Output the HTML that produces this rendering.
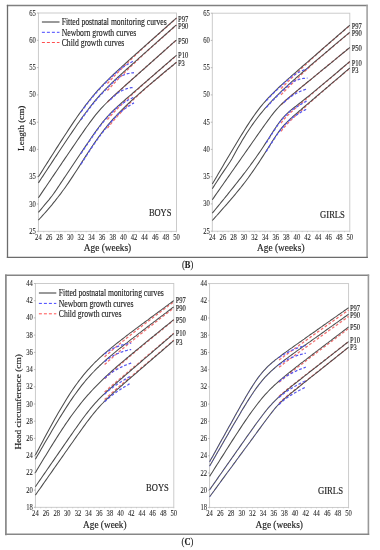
<!DOCTYPE html><html><head><meta charset="utf-8"><title>Postnatal growth monitoring curves</title>
<style>html,body{margin:0;padding:0;background:#fff;}svg{display:block;filter:blur(0.3px);}text{font-family:"Liberation Serif", "Times New Roman", serif;fill:#1e1e1e;stroke:#1e1e1e;stroke-width:0.15px;}.tk{stroke-width:0.08px;fill:#2a2a2a;}</style></head><body>
<svg width="380" height="550" viewBox="0 0 380 550">
<rect x="0" y="0" width="380" height="550" fill="#fff"/>
<line x1="7.5" y1="5.5" x2="367.1" y2="5.5" stroke="#808080" stroke-width="1.4" stroke-linecap="square"/>
<line x1="367.1" y1="5.5" x2="367.1" y2="257.3" stroke="#a2a2a2" stroke-width="1.6" stroke-linecap="square"/>
<line x1="7.5" y1="5.5" x2="7.5" y2="257.3" stroke="#6c6c6c" stroke-width="1.3" stroke-linecap="square"/>
<line x1="7.5" y1="257.3" x2="367.1" y2="257.3" stroke="#6c6c6c" stroke-width="1.3" stroke-linecap="square"/>
<line x1="5.9" y1="275.3" x2="368.4" y2="275.3" stroke="#858585" stroke-width="1.5" stroke-linecap="square"/>
<line x1="368.4" y1="275.3" x2="368.4" y2="534.3" stroke="#999999" stroke-width="1.6" stroke-linecap="square"/>
<line x1="5.9" y1="275.3" x2="5.9" y2="534.3" stroke="#878787" stroke-width="1.7" stroke-linecap="square"/>
<line x1="5.9" y1="534.3" x2="368.4" y2="534.3" stroke="#878787" stroke-width="1.6" stroke-linecap="square"/>
<rect x="38.4" y="13.0" width="138.1" height="218.3" fill="none" stroke="#c6c6c6" stroke-width="0.9"/>
<line x1="36.9" y1="231.3" x2="38.4" y2="231.3" stroke="#aaa" stroke-width="0.8"/>
<text x="29.3" y="233.8" font-size="8.0" class="tk" textLength="6.6" lengthAdjust="spacingAndGlyphs">25</text>
<line x1="36.9" y1="204.0" x2="38.4" y2="204.0" stroke="#aaa" stroke-width="0.8"/>
<text x="29.3" y="206.5" font-size="8.0" class="tk" textLength="6.6" lengthAdjust="spacingAndGlyphs">30</text>
<line x1="36.9" y1="176.7" x2="38.4" y2="176.7" stroke="#aaa" stroke-width="0.8"/>
<text x="29.3" y="179.2" font-size="8.0" class="tk" textLength="6.6" lengthAdjust="spacingAndGlyphs">35</text>
<line x1="36.9" y1="149.4" x2="38.4" y2="149.4" stroke="#aaa" stroke-width="0.8"/>
<text x="29.3" y="151.9" font-size="8.0" class="tk" textLength="6.6" lengthAdjust="spacingAndGlyphs">40</text>
<line x1="36.9" y1="122.2" x2="38.4" y2="122.2" stroke="#aaa" stroke-width="0.8"/>
<text x="29.3" y="124.7" font-size="8.0" class="tk" textLength="6.6" lengthAdjust="spacingAndGlyphs">45</text>
<line x1="36.9" y1="94.9" x2="38.4" y2="94.9" stroke="#aaa" stroke-width="0.8"/>
<text x="29.3" y="97.4" font-size="8.0" class="tk" textLength="6.6" lengthAdjust="spacingAndGlyphs">50</text>
<line x1="36.9" y1="67.6" x2="38.4" y2="67.6" stroke="#aaa" stroke-width="0.8"/>
<text x="29.3" y="70.1" font-size="8.0" class="tk" textLength="6.6" lengthAdjust="spacingAndGlyphs">55</text>
<line x1="36.9" y1="40.3" x2="38.4" y2="40.3" stroke="#aaa" stroke-width="0.8"/>
<text x="29.3" y="42.8" font-size="8.0" class="tk" textLength="6.6" lengthAdjust="spacingAndGlyphs">60</text>
<line x1="36.9" y1="13.0" x2="38.4" y2="13.0" stroke="#aaa" stroke-width="0.8"/>
<text x="29.3" y="15.5" font-size="8.0" class="tk" textLength="6.6" lengthAdjust="spacingAndGlyphs">65</text>
<text x="35.1" y="239.8" font-size="8.0" class="tk" textLength="6.6" lengthAdjust="spacingAndGlyphs">24</text>
<text x="45.7" y="239.8" font-size="8.0" class="tk" textLength="6.6" lengthAdjust="spacingAndGlyphs">26</text>
<text x="56.3" y="239.8" font-size="8.0" class="tk" textLength="6.6" lengthAdjust="spacingAndGlyphs">28</text>
<text x="67.0" y="239.8" font-size="8.0" class="tk" textLength="6.6" lengthAdjust="spacingAndGlyphs">30</text>
<text x="77.6" y="239.8" font-size="8.0" class="tk" textLength="6.6" lengthAdjust="spacingAndGlyphs">32</text>
<text x="88.2" y="239.8" font-size="8.0" class="tk" textLength="6.6" lengthAdjust="spacingAndGlyphs">34</text>
<text x="98.8" y="239.8" font-size="8.0" class="tk" textLength="6.6" lengthAdjust="spacingAndGlyphs">36</text>
<text x="109.5" y="239.8" font-size="8.0" class="tk" textLength="6.6" lengthAdjust="spacingAndGlyphs">38</text>
<text x="120.1" y="239.8" font-size="8.0" class="tk" textLength="6.6" lengthAdjust="spacingAndGlyphs">40</text>
<text x="130.7" y="239.8" font-size="8.0" class="tk" textLength="6.6" lengthAdjust="spacingAndGlyphs">42</text>
<text x="141.3" y="239.8" font-size="8.0" class="tk" textLength="6.6" lengthAdjust="spacingAndGlyphs">44</text>
<text x="152.0" y="239.8" font-size="8.0" class="tk" textLength="6.6" lengthAdjust="spacingAndGlyphs">46</text>
<text x="162.6" y="239.8" font-size="8.0" class="tk" textLength="6.6" lengthAdjust="spacingAndGlyphs">48</text>
<text x="173.2" y="239.8" font-size="8.0" class="tk" textLength="6.6" lengthAdjust="spacingAndGlyphs">50</text>
<line x1="38.4" y1="231.3" x2="38.4" y2="232.3" stroke="#bdbdbd" stroke-width="0.7"/>
<line x1="43.7" y1="231.3" x2="43.7" y2="232.3" stroke="#bdbdbd" stroke-width="0.7"/>
<line x1="49.0" y1="231.3" x2="49.0" y2="232.3" stroke="#bdbdbd" stroke-width="0.7"/>
<line x1="54.3" y1="231.3" x2="54.3" y2="232.3" stroke="#bdbdbd" stroke-width="0.7"/>
<line x1="59.6" y1="231.3" x2="59.6" y2="232.3" stroke="#bdbdbd" stroke-width="0.7"/>
<line x1="65.0" y1="231.3" x2="65.0" y2="232.3" stroke="#bdbdbd" stroke-width="0.7"/>
<line x1="70.3" y1="231.3" x2="70.3" y2="232.3" stroke="#bdbdbd" stroke-width="0.7"/>
<line x1="75.6" y1="231.3" x2="75.6" y2="232.3" stroke="#bdbdbd" stroke-width="0.7"/>
<line x1="80.9" y1="231.3" x2="80.9" y2="232.3" stroke="#bdbdbd" stroke-width="0.7"/>
<line x1="86.2" y1="231.3" x2="86.2" y2="232.3" stroke="#bdbdbd" stroke-width="0.7"/>
<line x1="91.5" y1="231.3" x2="91.5" y2="232.3" stroke="#bdbdbd" stroke-width="0.7"/>
<line x1="96.8" y1="231.3" x2="96.8" y2="232.3" stroke="#bdbdbd" stroke-width="0.7"/>
<line x1="102.1" y1="231.3" x2="102.1" y2="232.3" stroke="#bdbdbd" stroke-width="0.7"/>
<line x1="107.4" y1="231.3" x2="107.4" y2="232.3" stroke="#bdbdbd" stroke-width="0.7"/>
<line x1="112.8" y1="231.3" x2="112.8" y2="232.3" stroke="#bdbdbd" stroke-width="0.7"/>
<line x1="118.1" y1="231.3" x2="118.1" y2="232.3" stroke="#bdbdbd" stroke-width="0.7"/>
<line x1="123.4" y1="231.3" x2="123.4" y2="232.3" stroke="#bdbdbd" stroke-width="0.7"/>
<line x1="128.7" y1="231.3" x2="128.7" y2="232.3" stroke="#bdbdbd" stroke-width="0.7"/>
<line x1="134.0" y1="231.3" x2="134.0" y2="232.3" stroke="#bdbdbd" stroke-width="0.7"/>
<line x1="139.3" y1="231.3" x2="139.3" y2="232.3" stroke="#bdbdbd" stroke-width="0.7"/>
<line x1="144.6" y1="231.3" x2="144.6" y2="232.3" stroke="#bdbdbd" stroke-width="0.7"/>
<line x1="149.9" y1="231.3" x2="149.9" y2="232.3" stroke="#bdbdbd" stroke-width="0.7"/>
<line x1="155.3" y1="231.3" x2="155.3" y2="232.3" stroke="#bdbdbd" stroke-width="0.7"/>
<line x1="160.6" y1="231.3" x2="160.6" y2="232.3" stroke="#bdbdbd" stroke-width="0.7"/>
<line x1="165.9" y1="231.3" x2="165.9" y2="232.3" stroke="#bdbdbd" stroke-width="0.7"/>
<line x1="171.2" y1="231.3" x2="171.2" y2="232.3" stroke="#bdbdbd" stroke-width="0.7"/>
<line x1="176.5" y1="231.3" x2="176.5" y2="232.3" stroke="#bdbdbd" stroke-width="0.7"/>
<text x="178.0" y="21.6" font-size="8.0" textLength="10.2" lengthAdjust="spacingAndGlyphs">P97</text>
<text x="178.0" y="29.0" font-size="8.0" textLength="10.2" lengthAdjust="spacingAndGlyphs">P90</text>
<text x="178.0" y="43.9" font-size="8.0" textLength="10.2" lengthAdjust="spacingAndGlyphs">P50</text>
<text x="178.0" y="58.0" font-size="8.0" textLength="10.2" lengthAdjust="spacingAndGlyphs">P10</text>
<text x="178.0" y="65.7" font-size="8.0" textLength="6.8" lengthAdjust="spacingAndGlyphs">P3</text>
<rect x="212.3" y="13.2" width="137.5" height="218.0" fill="none" stroke="#c6c6c6" stroke-width="0.9"/>
<line x1="210.8" y1="231.2" x2="212.3" y2="231.2" stroke="#aaa" stroke-width="0.8"/>
<text x="203.2" y="233.7" font-size="8.0" class="tk" textLength="6.6" lengthAdjust="spacingAndGlyphs">25</text>
<line x1="210.8" y1="203.9" x2="212.3" y2="203.9" stroke="#aaa" stroke-width="0.8"/>
<text x="203.2" y="206.4" font-size="8.0" class="tk" textLength="6.6" lengthAdjust="spacingAndGlyphs">30</text>
<line x1="210.8" y1="176.7" x2="212.3" y2="176.7" stroke="#aaa" stroke-width="0.8"/>
<text x="203.2" y="179.2" font-size="8.0" class="tk" textLength="6.6" lengthAdjust="spacingAndGlyphs">35</text>
<line x1="210.8" y1="149.4" x2="212.3" y2="149.4" stroke="#aaa" stroke-width="0.8"/>
<text x="203.2" y="151.9" font-size="8.0" class="tk" textLength="6.6" lengthAdjust="spacingAndGlyphs">40</text>
<line x1="210.8" y1="122.2" x2="212.3" y2="122.2" stroke="#aaa" stroke-width="0.8"/>
<text x="203.2" y="124.7" font-size="8.0" class="tk" textLength="6.6" lengthAdjust="spacingAndGlyphs">45</text>
<line x1="210.8" y1="94.9" x2="212.3" y2="94.9" stroke="#aaa" stroke-width="0.8"/>
<text x="203.2" y="97.4" font-size="8.0" class="tk" textLength="6.6" lengthAdjust="spacingAndGlyphs">50</text>
<line x1="210.8" y1="67.7" x2="212.3" y2="67.7" stroke="#aaa" stroke-width="0.8"/>
<text x="203.2" y="70.2" font-size="8.0" class="tk" textLength="6.6" lengthAdjust="spacingAndGlyphs">55</text>
<line x1="210.8" y1="40.4" x2="212.3" y2="40.4" stroke="#aaa" stroke-width="0.8"/>
<text x="203.2" y="42.9" font-size="8.0" class="tk" textLength="6.6" lengthAdjust="spacingAndGlyphs">60</text>
<line x1="210.8" y1="13.2" x2="212.3" y2="13.2" stroke="#aaa" stroke-width="0.8"/>
<text x="203.2" y="15.7" font-size="8.0" class="tk" textLength="6.6" lengthAdjust="spacingAndGlyphs">65</text>
<text x="209.0" y="240.1" font-size="8.0" class="tk" textLength="6.6" lengthAdjust="spacingAndGlyphs">24</text>
<text x="219.6" y="240.1" font-size="8.0" class="tk" textLength="6.6" lengthAdjust="spacingAndGlyphs">26</text>
<text x="230.2" y="240.1" font-size="8.0" class="tk" textLength="6.6" lengthAdjust="spacingAndGlyphs">28</text>
<text x="240.7" y="240.1" font-size="8.0" class="tk" textLength="6.6" lengthAdjust="spacingAndGlyphs">30</text>
<text x="251.3" y="240.1" font-size="8.0" class="tk" textLength="6.6" lengthAdjust="spacingAndGlyphs">32</text>
<text x="261.9" y="240.1" font-size="8.0" class="tk" textLength="6.6" lengthAdjust="spacingAndGlyphs">34</text>
<text x="272.5" y="240.1" font-size="8.0" class="tk" textLength="6.6" lengthAdjust="spacingAndGlyphs">36</text>
<text x="283.0" y="240.1" font-size="8.0" class="tk" textLength="6.6" lengthAdjust="spacingAndGlyphs">38</text>
<text x="293.6" y="240.1" font-size="8.0" class="tk" textLength="6.6" lengthAdjust="spacingAndGlyphs">40</text>
<text x="304.2" y="240.1" font-size="8.0" class="tk" textLength="6.6" lengthAdjust="spacingAndGlyphs">42</text>
<text x="314.8" y="240.1" font-size="8.0" class="tk" textLength="6.6" lengthAdjust="spacingAndGlyphs">44</text>
<text x="325.3" y="240.1" font-size="8.0" class="tk" textLength="6.6" lengthAdjust="spacingAndGlyphs">46</text>
<text x="335.9" y="240.1" font-size="8.0" class="tk" textLength="6.6" lengthAdjust="spacingAndGlyphs">48</text>
<text x="346.5" y="240.1" font-size="8.0" class="tk" textLength="6.6" lengthAdjust="spacingAndGlyphs">50</text>
<line x1="212.3" y1="231.2" x2="212.3" y2="232.2" stroke="#bdbdbd" stroke-width="0.7"/>
<line x1="217.6" y1="231.2" x2="217.6" y2="232.2" stroke="#bdbdbd" stroke-width="0.7"/>
<line x1="222.9" y1="231.2" x2="222.9" y2="232.2" stroke="#bdbdbd" stroke-width="0.7"/>
<line x1="228.2" y1="231.2" x2="228.2" y2="232.2" stroke="#bdbdbd" stroke-width="0.7"/>
<line x1="233.5" y1="231.2" x2="233.5" y2="232.2" stroke="#bdbdbd" stroke-width="0.7"/>
<line x1="238.7" y1="231.2" x2="238.7" y2="232.2" stroke="#bdbdbd" stroke-width="0.7"/>
<line x1="244.0" y1="231.2" x2="244.0" y2="232.2" stroke="#bdbdbd" stroke-width="0.7"/>
<line x1="249.3" y1="231.2" x2="249.3" y2="232.2" stroke="#bdbdbd" stroke-width="0.7"/>
<line x1="254.6" y1="231.2" x2="254.6" y2="232.2" stroke="#bdbdbd" stroke-width="0.7"/>
<line x1="259.9" y1="231.2" x2="259.9" y2="232.2" stroke="#bdbdbd" stroke-width="0.7"/>
<line x1="265.2" y1="231.2" x2="265.2" y2="232.2" stroke="#bdbdbd" stroke-width="0.7"/>
<line x1="270.5" y1="231.2" x2="270.5" y2="232.2" stroke="#bdbdbd" stroke-width="0.7"/>
<line x1="275.8" y1="231.2" x2="275.8" y2="232.2" stroke="#bdbdbd" stroke-width="0.7"/>
<line x1="281.1" y1="231.2" x2="281.1" y2="232.2" stroke="#bdbdbd" stroke-width="0.7"/>
<line x1="286.3" y1="231.2" x2="286.3" y2="232.2" stroke="#bdbdbd" stroke-width="0.7"/>
<line x1="291.6" y1="231.2" x2="291.6" y2="232.2" stroke="#bdbdbd" stroke-width="0.7"/>
<line x1="296.9" y1="231.2" x2="296.9" y2="232.2" stroke="#bdbdbd" stroke-width="0.7"/>
<line x1="302.2" y1="231.2" x2="302.2" y2="232.2" stroke="#bdbdbd" stroke-width="0.7"/>
<line x1="307.5" y1="231.2" x2="307.5" y2="232.2" stroke="#bdbdbd" stroke-width="0.7"/>
<line x1="312.8" y1="231.2" x2="312.8" y2="232.2" stroke="#bdbdbd" stroke-width="0.7"/>
<line x1="318.1" y1="231.2" x2="318.1" y2="232.2" stroke="#bdbdbd" stroke-width="0.7"/>
<line x1="323.4" y1="231.2" x2="323.4" y2="232.2" stroke="#bdbdbd" stroke-width="0.7"/>
<line x1="328.6" y1="231.2" x2="328.6" y2="232.2" stroke="#bdbdbd" stroke-width="0.7"/>
<line x1="333.9" y1="231.2" x2="333.9" y2="232.2" stroke="#bdbdbd" stroke-width="0.7"/>
<line x1="339.2" y1="231.2" x2="339.2" y2="232.2" stroke="#bdbdbd" stroke-width="0.7"/>
<line x1="344.5" y1="231.2" x2="344.5" y2="232.2" stroke="#bdbdbd" stroke-width="0.7"/>
<line x1="349.8" y1="231.2" x2="349.8" y2="232.2" stroke="#bdbdbd" stroke-width="0.7"/>
<text x="351.7" y="29.2" font-size="8.0" textLength="10.2" lengthAdjust="spacingAndGlyphs">P97</text>
<text x="351.7" y="36.4" font-size="8.0" textLength="10.2" lengthAdjust="spacingAndGlyphs">P90</text>
<text x="351.7" y="51.2" font-size="8.0" textLength="10.2" lengthAdjust="spacingAndGlyphs">P50</text>
<text x="351.7" y="65.7" font-size="8.0" textLength="10.2" lengthAdjust="spacingAndGlyphs">P10</text>
<text x="351.7" y="73.2" font-size="8.0" textLength="6.8" lengthAdjust="spacingAndGlyphs">P3</text>
<rect x="35.4" y="283.5" width="138.4" height="223.8" fill="none" stroke="#c6c6c6" stroke-width="0.9"/>
<line x1="33.9" y1="507.3" x2="35.4" y2="507.3" stroke="#aaa" stroke-width="0.8"/>
<text x="26.2" y="509.8" font-size="8.0" class="tk" textLength="6.6" lengthAdjust="spacingAndGlyphs">18</text>
<line x1="33.9" y1="490.1" x2="35.4" y2="490.1" stroke="#aaa" stroke-width="0.8"/>
<text x="26.2" y="492.6" font-size="8.0" class="tk" textLength="6.6" lengthAdjust="spacingAndGlyphs">20</text>
<line x1="33.9" y1="472.9" x2="35.4" y2="472.9" stroke="#aaa" stroke-width="0.8"/>
<text x="26.2" y="475.4" font-size="8.0" class="tk" textLength="6.6" lengthAdjust="spacingAndGlyphs">22</text>
<line x1="33.9" y1="455.7" x2="35.4" y2="455.7" stroke="#aaa" stroke-width="0.8"/>
<text x="26.2" y="458.2" font-size="8.0" class="tk" textLength="6.6" lengthAdjust="spacingAndGlyphs">24</text>
<line x1="33.9" y1="438.4" x2="35.4" y2="438.4" stroke="#aaa" stroke-width="0.8"/>
<text x="26.2" y="440.9" font-size="8.0" class="tk" textLength="6.6" lengthAdjust="spacingAndGlyphs">26</text>
<line x1="33.9" y1="421.2" x2="35.4" y2="421.2" stroke="#aaa" stroke-width="0.8"/>
<text x="26.2" y="423.7" font-size="8.0" class="tk" textLength="6.6" lengthAdjust="spacingAndGlyphs">28</text>
<line x1="33.9" y1="404.0" x2="35.4" y2="404.0" stroke="#aaa" stroke-width="0.8"/>
<text x="26.2" y="406.5" font-size="8.0" class="tk" textLength="6.6" lengthAdjust="spacingAndGlyphs">30</text>
<line x1="33.9" y1="386.8" x2="35.4" y2="386.8" stroke="#aaa" stroke-width="0.8"/>
<text x="26.2" y="389.3" font-size="8.0" class="tk" textLength="6.6" lengthAdjust="spacingAndGlyphs">32</text>
<line x1="33.9" y1="369.6" x2="35.4" y2="369.6" stroke="#aaa" stroke-width="0.8"/>
<text x="26.2" y="372.1" font-size="8.0" class="tk" textLength="6.6" lengthAdjust="spacingAndGlyphs">34</text>
<line x1="33.9" y1="352.4" x2="35.4" y2="352.4" stroke="#aaa" stroke-width="0.8"/>
<text x="26.2" y="354.9" font-size="8.0" class="tk" textLength="6.6" lengthAdjust="spacingAndGlyphs">36</text>
<line x1="33.9" y1="335.1" x2="35.4" y2="335.1" stroke="#aaa" stroke-width="0.8"/>
<text x="26.2" y="337.6" font-size="8.0" class="tk" textLength="6.6" lengthAdjust="spacingAndGlyphs">38</text>
<line x1="33.9" y1="317.9" x2="35.4" y2="317.9" stroke="#aaa" stroke-width="0.8"/>
<text x="26.2" y="320.4" font-size="8.0" class="tk" textLength="6.6" lengthAdjust="spacingAndGlyphs">40</text>
<line x1="33.9" y1="300.7" x2="35.4" y2="300.7" stroke="#aaa" stroke-width="0.8"/>
<text x="26.2" y="303.2" font-size="8.0" class="tk" textLength="6.6" lengthAdjust="spacingAndGlyphs">42</text>
<line x1="33.9" y1="283.5" x2="35.4" y2="283.5" stroke="#aaa" stroke-width="0.8"/>
<text x="26.2" y="286.0" font-size="8.0" class="tk" textLength="6.6" lengthAdjust="spacingAndGlyphs">44</text>
<text x="32.1" y="516.4" font-size="8.0" class="tk" textLength="6.6" lengthAdjust="spacingAndGlyphs">24</text>
<text x="42.7" y="516.4" font-size="8.0" class="tk" textLength="6.6" lengthAdjust="spacingAndGlyphs">26</text>
<text x="53.4" y="516.4" font-size="8.0" class="tk" textLength="6.6" lengthAdjust="spacingAndGlyphs">28</text>
<text x="64.0" y="516.4" font-size="8.0" class="tk" textLength="6.6" lengthAdjust="spacingAndGlyphs">30</text>
<text x="74.7" y="516.4" font-size="8.0" class="tk" textLength="6.6" lengthAdjust="spacingAndGlyphs">32</text>
<text x="85.3" y="516.4" font-size="8.0" class="tk" textLength="6.6" lengthAdjust="spacingAndGlyphs">34</text>
<text x="96.0" y="516.4" font-size="8.0" class="tk" textLength="6.6" lengthAdjust="spacingAndGlyphs">36</text>
<text x="106.6" y="516.4" font-size="8.0" class="tk" textLength="6.6" lengthAdjust="spacingAndGlyphs">38</text>
<text x="117.3" y="516.4" font-size="8.0" class="tk" textLength="6.6" lengthAdjust="spacingAndGlyphs">40</text>
<text x="127.9" y="516.4" font-size="8.0" class="tk" textLength="6.6" lengthAdjust="spacingAndGlyphs">42</text>
<text x="138.6" y="516.4" font-size="8.0" class="tk" textLength="6.6" lengthAdjust="spacingAndGlyphs">44</text>
<text x="149.2" y="516.4" font-size="8.0" class="tk" textLength="6.6" lengthAdjust="spacingAndGlyphs">46</text>
<text x="159.9" y="516.4" font-size="8.0" class="tk" textLength="6.6" lengthAdjust="spacingAndGlyphs">48</text>
<text x="170.5" y="516.4" font-size="8.0" class="tk" textLength="6.6" lengthAdjust="spacingAndGlyphs">50</text>
<line x1="35.4" y1="507.3" x2="35.4" y2="508.3" stroke="#bdbdbd" stroke-width="0.7"/>
<line x1="40.7" y1="507.3" x2="40.7" y2="508.3" stroke="#bdbdbd" stroke-width="0.7"/>
<line x1="46.0" y1="507.3" x2="46.0" y2="508.3" stroke="#bdbdbd" stroke-width="0.7"/>
<line x1="51.4" y1="507.3" x2="51.4" y2="508.3" stroke="#bdbdbd" stroke-width="0.7"/>
<line x1="56.7" y1="507.3" x2="56.7" y2="508.3" stroke="#bdbdbd" stroke-width="0.7"/>
<line x1="62.0" y1="507.3" x2="62.0" y2="508.3" stroke="#bdbdbd" stroke-width="0.7"/>
<line x1="67.3" y1="507.3" x2="67.3" y2="508.3" stroke="#bdbdbd" stroke-width="0.7"/>
<line x1="72.7" y1="507.3" x2="72.7" y2="508.3" stroke="#bdbdbd" stroke-width="0.7"/>
<line x1="78.0" y1="507.3" x2="78.0" y2="508.3" stroke="#bdbdbd" stroke-width="0.7"/>
<line x1="83.3" y1="507.3" x2="83.3" y2="508.3" stroke="#bdbdbd" stroke-width="0.7"/>
<line x1="88.6" y1="507.3" x2="88.6" y2="508.3" stroke="#bdbdbd" stroke-width="0.7"/>
<line x1="94.0" y1="507.3" x2="94.0" y2="508.3" stroke="#bdbdbd" stroke-width="0.7"/>
<line x1="99.3" y1="507.3" x2="99.3" y2="508.3" stroke="#bdbdbd" stroke-width="0.7"/>
<line x1="104.6" y1="507.3" x2="104.6" y2="508.3" stroke="#bdbdbd" stroke-width="0.7"/>
<line x1="109.9" y1="507.3" x2="109.9" y2="508.3" stroke="#bdbdbd" stroke-width="0.7"/>
<line x1="115.2" y1="507.3" x2="115.2" y2="508.3" stroke="#bdbdbd" stroke-width="0.7"/>
<line x1="120.6" y1="507.3" x2="120.6" y2="508.3" stroke="#bdbdbd" stroke-width="0.7"/>
<line x1="125.9" y1="507.3" x2="125.9" y2="508.3" stroke="#bdbdbd" stroke-width="0.7"/>
<line x1="131.2" y1="507.3" x2="131.2" y2="508.3" stroke="#bdbdbd" stroke-width="0.7"/>
<line x1="136.5" y1="507.3" x2="136.5" y2="508.3" stroke="#bdbdbd" stroke-width="0.7"/>
<line x1="141.9" y1="507.3" x2="141.9" y2="508.3" stroke="#bdbdbd" stroke-width="0.7"/>
<line x1="147.2" y1="507.3" x2="147.2" y2="508.3" stroke="#bdbdbd" stroke-width="0.7"/>
<line x1="152.5" y1="507.3" x2="152.5" y2="508.3" stroke="#bdbdbd" stroke-width="0.7"/>
<line x1="157.8" y1="507.3" x2="157.8" y2="508.3" stroke="#bdbdbd" stroke-width="0.7"/>
<line x1="163.2" y1="507.3" x2="163.2" y2="508.3" stroke="#bdbdbd" stroke-width="0.7"/>
<line x1="168.5" y1="507.3" x2="168.5" y2="508.3" stroke="#bdbdbd" stroke-width="0.7"/>
<line x1="173.8" y1="507.3" x2="173.8" y2="508.3" stroke="#bdbdbd" stroke-width="0.7"/>
<text x="175.7" y="302.9" font-size="8.0" textLength="10.2" lengthAdjust="spacingAndGlyphs">P97</text>
<text x="175.7" y="310.8" font-size="8.0" textLength="10.2" lengthAdjust="spacingAndGlyphs">P90</text>
<text x="175.7" y="323.1" font-size="8.0" textLength="10.2" lengthAdjust="spacingAndGlyphs">P50</text>
<text x="175.7" y="335.8" font-size="8.0" textLength="10.2" lengthAdjust="spacingAndGlyphs">P10</text>
<text x="175.7" y="344.6" font-size="8.0" textLength="6.8" lengthAdjust="spacingAndGlyphs">P3</text>
<rect x="209.6" y="283.6" width="139.0" height="223.8" fill="none" stroke="#c6c6c6" stroke-width="0.9"/>
<line x1="208.1" y1="507.4" x2="209.6" y2="507.4" stroke="#aaa" stroke-width="0.8"/>
<text x="200.4" y="509.9" font-size="8.0" class="tk" textLength="6.6" lengthAdjust="spacingAndGlyphs">18</text>
<line x1="208.1" y1="490.2" x2="209.6" y2="490.2" stroke="#aaa" stroke-width="0.8"/>
<text x="200.4" y="492.7" font-size="8.0" class="tk" textLength="6.6" lengthAdjust="spacingAndGlyphs">20</text>
<line x1="208.1" y1="473.0" x2="209.6" y2="473.0" stroke="#aaa" stroke-width="0.8"/>
<text x="200.4" y="475.5" font-size="8.0" class="tk" textLength="6.6" lengthAdjust="spacingAndGlyphs">22</text>
<line x1="208.1" y1="455.8" x2="209.6" y2="455.8" stroke="#aaa" stroke-width="0.8"/>
<text x="200.4" y="458.3" font-size="8.0" class="tk" textLength="6.6" lengthAdjust="spacingAndGlyphs">24</text>
<line x1="208.1" y1="438.5" x2="209.6" y2="438.5" stroke="#aaa" stroke-width="0.8"/>
<text x="200.4" y="441.0" font-size="8.0" class="tk" textLength="6.6" lengthAdjust="spacingAndGlyphs">26</text>
<line x1="208.1" y1="421.3" x2="209.6" y2="421.3" stroke="#aaa" stroke-width="0.8"/>
<text x="200.4" y="423.8" font-size="8.0" class="tk" textLength="6.6" lengthAdjust="spacingAndGlyphs">28</text>
<line x1="208.1" y1="404.1" x2="209.6" y2="404.1" stroke="#aaa" stroke-width="0.8"/>
<text x="200.4" y="406.6" font-size="8.0" class="tk" textLength="6.6" lengthAdjust="spacingAndGlyphs">30</text>
<line x1="208.1" y1="386.9" x2="209.6" y2="386.9" stroke="#aaa" stroke-width="0.8"/>
<text x="200.4" y="389.4" font-size="8.0" class="tk" textLength="6.6" lengthAdjust="spacingAndGlyphs">32</text>
<line x1="208.1" y1="369.7" x2="209.6" y2="369.7" stroke="#aaa" stroke-width="0.8"/>
<text x="200.4" y="372.2" font-size="8.0" class="tk" textLength="6.6" lengthAdjust="spacingAndGlyphs">34</text>
<line x1="208.1" y1="352.5" x2="209.6" y2="352.5" stroke="#aaa" stroke-width="0.8"/>
<text x="200.4" y="355.0" font-size="8.0" class="tk" textLength="6.6" lengthAdjust="spacingAndGlyphs">36</text>
<line x1="208.1" y1="335.2" x2="209.6" y2="335.2" stroke="#aaa" stroke-width="0.8"/>
<text x="200.4" y="337.7" font-size="8.0" class="tk" textLength="6.6" lengthAdjust="spacingAndGlyphs">38</text>
<line x1="208.1" y1="318.0" x2="209.6" y2="318.0" stroke="#aaa" stroke-width="0.8"/>
<text x="200.4" y="320.5" font-size="8.0" class="tk" textLength="6.6" lengthAdjust="spacingAndGlyphs">40</text>
<line x1="208.1" y1="300.8" x2="209.6" y2="300.8" stroke="#aaa" stroke-width="0.8"/>
<text x="200.4" y="303.3" font-size="8.0" class="tk" textLength="6.6" lengthAdjust="spacingAndGlyphs">42</text>
<line x1="208.1" y1="283.6" x2="209.6" y2="283.6" stroke="#aaa" stroke-width="0.8"/>
<text x="200.4" y="286.1" font-size="8.0" class="tk" textLength="6.6" lengthAdjust="spacingAndGlyphs">44</text>
<text x="206.3" y="516.2" font-size="8.0" class="tk" textLength="6.6" lengthAdjust="spacingAndGlyphs">24</text>
<text x="217.0" y="516.2" font-size="8.0" class="tk" textLength="6.6" lengthAdjust="spacingAndGlyphs">26</text>
<text x="227.7" y="516.2" font-size="8.0" class="tk" textLength="6.6" lengthAdjust="spacingAndGlyphs">28</text>
<text x="238.4" y="516.2" font-size="8.0" class="tk" textLength="6.6" lengthAdjust="spacingAndGlyphs">30</text>
<text x="249.1" y="516.2" font-size="8.0" class="tk" textLength="6.6" lengthAdjust="spacingAndGlyphs">32</text>
<text x="259.8" y="516.2" font-size="8.0" class="tk" textLength="6.6" lengthAdjust="spacingAndGlyphs">34</text>
<text x="270.5" y="516.2" font-size="8.0" class="tk" textLength="6.6" lengthAdjust="spacingAndGlyphs">36</text>
<text x="281.1" y="516.2" font-size="8.0" class="tk" textLength="6.6" lengthAdjust="spacingAndGlyphs">38</text>
<text x="291.8" y="516.2" font-size="8.0" class="tk" textLength="6.6" lengthAdjust="spacingAndGlyphs">40</text>
<text x="302.5" y="516.2" font-size="8.0" class="tk" textLength="6.6" lengthAdjust="spacingAndGlyphs">42</text>
<text x="313.2" y="516.2" font-size="8.0" class="tk" textLength="6.6" lengthAdjust="spacingAndGlyphs">44</text>
<text x="323.9" y="516.2" font-size="8.0" class="tk" textLength="6.6" lengthAdjust="spacingAndGlyphs">46</text>
<text x="334.6" y="516.2" font-size="8.0" class="tk" textLength="6.6" lengthAdjust="spacingAndGlyphs">48</text>
<text x="345.3" y="516.2" font-size="8.0" class="tk" textLength="6.6" lengthAdjust="spacingAndGlyphs">50</text>
<line x1="209.6" y1="507.4" x2="209.6" y2="508.4" stroke="#bdbdbd" stroke-width="0.7"/>
<line x1="214.9" y1="507.4" x2="214.9" y2="508.4" stroke="#bdbdbd" stroke-width="0.7"/>
<line x1="220.3" y1="507.4" x2="220.3" y2="508.4" stroke="#bdbdbd" stroke-width="0.7"/>
<line x1="225.6" y1="507.4" x2="225.6" y2="508.4" stroke="#bdbdbd" stroke-width="0.7"/>
<line x1="231.0" y1="507.4" x2="231.0" y2="508.4" stroke="#bdbdbd" stroke-width="0.7"/>
<line x1="236.3" y1="507.4" x2="236.3" y2="508.4" stroke="#bdbdbd" stroke-width="0.7"/>
<line x1="241.7" y1="507.4" x2="241.7" y2="508.4" stroke="#bdbdbd" stroke-width="0.7"/>
<line x1="247.0" y1="507.4" x2="247.0" y2="508.4" stroke="#bdbdbd" stroke-width="0.7"/>
<line x1="252.4" y1="507.4" x2="252.4" y2="508.4" stroke="#bdbdbd" stroke-width="0.7"/>
<line x1="257.7" y1="507.4" x2="257.7" y2="508.4" stroke="#bdbdbd" stroke-width="0.7"/>
<line x1="263.1" y1="507.4" x2="263.1" y2="508.4" stroke="#bdbdbd" stroke-width="0.7"/>
<line x1="268.4" y1="507.4" x2="268.4" y2="508.4" stroke="#bdbdbd" stroke-width="0.7"/>
<line x1="273.8" y1="507.4" x2="273.8" y2="508.4" stroke="#bdbdbd" stroke-width="0.7"/>
<line x1="279.1" y1="507.4" x2="279.1" y2="508.4" stroke="#bdbdbd" stroke-width="0.7"/>
<line x1="284.4" y1="507.4" x2="284.4" y2="508.4" stroke="#bdbdbd" stroke-width="0.7"/>
<line x1="289.8" y1="507.4" x2="289.8" y2="508.4" stroke="#bdbdbd" stroke-width="0.7"/>
<line x1="295.1" y1="507.4" x2="295.1" y2="508.4" stroke="#bdbdbd" stroke-width="0.7"/>
<line x1="300.5" y1="507.4" x2="300.5" y2="508.4" stroke="#bdbdbd" stroke-width="0.7"/>
<line x1="305.8" y1="507.4" x2="305.8" y2="508.4" stroke="#bdbdbd" stroke-width="0.7"/>
<line x1="311.2" y1="507.4" x2="311.2" y2="508.4" stroke="#bdbdbd" stroke-width="0.7"/>
<line x1="316.5" y1="507.4" x2="316.5" y2="508.4" stroke="#bdbdbd" stroke-width="0.7"/>
<line x1="321.9" y1="507.4" x2="321.9" y2="508.4" stroke="#bdbdbd" stroke-width="0.7"/>
<line x1="327.2" y1="507.4" x2="327.2" y2="508.4" stroke="#bdbdbd" stroke-width="0.7"/>
<line x1="332.6" y1="507.4" x2="332.6" y2="508.4" stroke="#bdbdbd" stroke-width="0.7"/>
<line x1="337.9" y1="507.4" x2="337.9" y2="508.4" stroke="#bdbdbd" stroke-width="0.7"/>
<line x1="343.3" y1="507.4" x2="343.3" y2="508.4" stroke="#bdbdbd" stroke-width="0.7"/>
<line x1="348.6" y1="507.4" x2="348.6" y2="508.4" stroke="#bdbdbd" stroke-width="0.7"/>
<text x="349.9" y="310.5" font-size="8.0" textLength="10.2" lengthAdjust="spacingAndGlyphs">P97</text>
<text x="349.9" y="317.9" font-size="8.0" textLength="10.2" lengthAdjust="spacingAndGlyphs">P90</text>
<text x="349.9" y="329.9" font-size="8.0" textLength="10.2" lengthAdjust="spacingAndGlyphs">P50</text>
<text x="349.9" y="342.5" font-size="8.0" textLength="10.2" lengthAdjust="spacingAndGlyphs">P10</text>
<text x="349.9" y="350.1" font-size="8.0" textLength="6.8" lengthAdjust="spacingAndGlyphs">P3</text>
<path d="M107.4,83.5 L108.3,82.5 L109.2,81.6 L110.1,80.7 L110.9,79.7 L111.8,78.8 L112.7,77.9 L113.6,77.0 L114.4,76.0 L115.3,75.1 L116.2,74.2 L117.1,73.3 L117.9,72.4 L118.8,71.6 L119.7,70.7 L120.6,69.8 L121.4,68.9 L122.3,68.0 L123.2,67.2 L124.1,66.3 L124.9,65.4 L125.8,64.6 L126.7,63.7 L127.6,62.9 L128.4,62.0 L129.3,61.1 L130.2,60.3 L131.0,59.5 L131.9,58.6 L132.8,57.8 L133.7,56.9 L134.5,56.1 L135.4,55.2 L136.3,54.4 L137.2,53.6 L138.0,52.8 L138.9,51.9 L139.8,51.1 L140.7,50.3 L141.5,49.5 L142.4,48.6 L143.3,47.8 L144.2,47.0 L145.0,46.2 L145.9,45.4 L146.8,44.6 L147.7,43.8 L148.5,43.0 L149.4,42.2 L150.3,41.4 L151.2,40.6 L152.0,39.9 L152.9,39.1 L153.8,38.3 L154.6,37.5 L155.5,36.8 L156.4,36.0 L157.3,35.2 L158.1,34.4 L159.0,33.7 L159.9,32.9 L160.8,32.1 L161.6,31.3 L162.5,30.6 L163.4,29.8 L164.3,29.0 L165.1,28.2 L166.0,27.5 L166.9,26.7 L167.8,25.9 L168.6,25.1 L169.5,24.4 L170.4,23.6 L171.3,22.8 L172.1,22.0 L173.0,21.3 L173.9,20.5 L174.8,19.7 L175.6,18.9 L176.5,18.2" fill="none" stroke="#f07070" stroke-width="1.3" stroke-dasharray="2.8,1.9"/>
<path d="M107.4,90.5 L108.3,89.5 L109.2,88.6 L110.1,87.6 L110.9,86.7 L111.8,85.7 L112.7,84.8 L113.6,83.9 L114.4,83.0 L115.3,82.1 L116.2,81.2 L117.1,80.3 L117.9,79.4 L118.8,78.5 L119.7,77.6 L120.6,76.7 L121.4,75.8 L122.3,75.0 L123.2,74.1 L124.1,73.2 L124.9,72.3 L125.8,71.5 L126.7,70.6 L127.6,69.8 L128.4,68.9 L129.3,68.1 L130.2,67.2 L131.0,66.4 L131.9,65.5 L132.8,64.7 L133.7,63.8 L134.5,63.0 L135.4,62.2 L136.3,61.3 L137.2,60.5 L138.0,59.7 L138.9,58.8 L139.8,58.0 L140.7,57.2 L141.5,56.4 L142.4,55.5 L143.3,54.7 L144.2,53.9 L145.0,53.1 L145.9,52.3 L146.8,51.5 L147.7,50.7 L148.5,49.9 L149.4,49.1 L150.3,48.3 L151.2,47.5 L152.0,46.8 L152.9,46.0 L153.8,45.2 L154.6,44.4 L155.5,43.6 L156.4,42.9 L157.3,42.1 L158.1,41.3 L159.0,40.5 L159.9,39.8 L160.8,39.0 L161.6,38.2 L162.5,37.4 L163.4,36.6 L164.3,35.9 L165.1,35.1 L166.0,34.3 L166.9,33.5 L167.8,32.8 L168.6,32.0 L169.5,31.2 L170.4,30.4 L171.3,29.7 L172.1,28.9 L173.0,28.1 L173.9,27.3 L174.8,26.5 L175.6,25.8 L176.5,25.0" fill="none" stroke="#f07070" stroke-width="1.3" stroke-dasharray="2.8,1.9"/>
<path d="M107.4,102.2 L108.3,101.3 L109.2,100.5 L110.1,99.6 L110.9,98.8 L111.8,98.0 L112.7,97.1 L113.6,96.3 L114.4,95.5 L115.3,94.7 L116.2,93.9 L117.1,93.1 L117.9,92.3 L118.8,91.5 L119.7,90.7 L120.6,89.9 L121.4,89.1 L122.3,88.3 L123.2,87.5 L124.1,86.7 L124.9,85.9 L125.8,85.1 L126.7,84.3 L127.6,83.6 L128.4,82.8 L129.3,82.0 L130.2,81.2 L131.0,80.4 L131.9,79.6 L132.8,78.8 L133.7,78.1 L134.5,77.3 L135.4,76.5 L136.3,75.7 L137.2,74.9 L138.0,74.1 L138.9,73.3 L139.8,72.6 L140.7,71.8 L141.5,71.0 L142.4,70.2 L143.3,69.4 L144.2,68.7 L145.0,67.9 L145.9,67.1 L146.8,66.3 L147.7,65.5 L148.5,64.7 L149.4,64.0 L150.3,63.2 L151.2,62.4 L152.0,61.6 L152.9,60.9 L153.8,60.1 L154.6,59.3 L155.5,58.5 L156.4,57.7 L157.3,57.0 L158.1,56.2 L159.0,55.4 L159.9,54.6 L160.8,53.9 L161.6,53.1 L162.5,52.3 L163.4,51.5 L164.3,50.7 L165.1,50.0 L166.0,49.2 L166.9,48.4 L167.8,47.6 L168.6,46.8 L169.5,46.1 L170.4,45.3 L171.3,44.5 L172.1,43.7 L173.0,43.0 L173.9,42.2 L174.8,41.4 L175.6,40.6 L176.5,39.8" fill="none" stroke="#f07070" stroke-width="1.3" stroke-dasharray="2.8,1.9"/>
<path d="M107.4,119.5 L108.3,118.5 L109.2,117.5 L110.1,116.5 L110.9,115.5 L111.8,114.5 L112.7,113.6 L113.6,112.7 L114.4,111.7 L115.3,110.8 L116.2,109.9 L117.1,109.1 L117.9,108.2 L118.8,107.3 L119.7,106.5 L120.6,105.6 L121.4,104.7 L122.3,103.9 L123.2,103.1 L124.1,102.2 L124.9,101.4 L125.8,100.5 L126.7,99.7 L127.6,98.9 L128.4,98.1 L129.3,97.2 L130.2,96.4 L131.0,95.6 L131.9,94.8 L132.8,94.0 L133.7,93.2 L134.5,92.3 L135.4,91.5 L136.3,90.7 L137.2,89.9 L138.0,89.1 L138.9,88.3 L139.8,87.5 L140.7,86.7 L141.5,85.9 L142.4,85.1 L143.3,84.3 L144.2,83.5 L145.0,82.8 L145.9,82.0 L146.8,81.2 L147.7,80.4 L148.5,79.6 L149.4,78.9 L150.3,78.1 L151.2,77.4 L152.0,76.6 L152.9,75.8 L153.8,75.1 L154.6,74.3 L155.5,73.6 L156.4,72.8 L157.3,72.1 L158.1,71.3 L159.0,70.5 L159.9,69.8 L160.8,69.0 L161.6,68.3 L162.5,67.5 L163.4,66.8 L164.3,66.0 L165.1,65.3 L166.0,64.5 L166.9,63.7 L167.8,63.0 L168.6,62.2 L169.5,61.5 L170.4,60.7 L171.3,60.0 L172.1,59.2 L173.0,58.4 L173.9,57.7 L174.8,56.9 L175.6,56.2 L176.5,55.4" fill="none" stroke="#f07070" stroke-width="1.3" stroke-dasharray="2.8,1.9"/>
<path d="M107.4,128.2 L108.3,127.1 L109.2,126.0 L110.1,124.9 L110.9,123.8 L111.8,122.7 L112.7,121.7 L113.6,120.6 L114.4,119.6 L115.3,118.6 L116.2,117.6 L117.1,116.6 L117.9,115.6 L118.8,114.6 L119.7,113.7 L120.6,112.7 L121.4,111.8 L122.3,110.8 L123.2,109.9 L124.1,109.0 L124.9,108.1 L125.8,107.2 L126.7,106.3 L127.6,105.4 L128.4,104.5 L129.3,103.6 L130.2,102.8 L131.0,101.9 L131.9,101.1 L132.8,100.2 L133.7,99.4 L134.5,98.5 L135.4,97.7 L136.3,96.9 L137.2,96.1 L138.0,95.3 L138.9,94.4 L139.8,93.6 L140.7,92.8 L141.5,92.0 L142.4,91.2 L143.3,90.5 L144.2,89.7 L145.0,88.9 L145.9,88.1 L146.8,87.3 L147.7,86.6 L148.5,85.8 L149.4,85.1 L150.3,84.3 L151.2,83.6 L152.0,82.8 L152.9,82.1 L153.8,81.3 L154.6,80.6 L155.5,79.9 L156.4,79.1 L157.3,78.4 L158.1,77.7 L159.0,76.9 L159.9,76.2 L160.8,75.5 L161.6,74.7 L162.5,74.0 L163.4,73.3 L164.3,72.6 L165.1,71.8 L166.0,71.1 L166.9,70.4 L167.8,69.6 L168.6,68.9 L169.5,68.2 L170.4,67.5 L171.3,66.7 L172.1,66.0 L173.0,65.3 L173.9,64.6 L174.8,63.8 L175.6,63.1 L176.5,62.4" fill="none" stroke="#f07070" stroke-width="1.3" stroke-dasharray="2.8,1.9"/>
<path d="M281.1,88.6 L281.9,87.7 L282.8,86.8 L283.7,85.9 L284.5,85.1 L285.4,84.2 L286.3,83.3 L287.1,82.4 L288.0,81.6 L288.9,80.7 L289.8,79.9 L290.6,79.0 L291.5,78.2 L292.4,77.3 L293.2,76.5 L294.1,75.6 L295.0,74.8 L295.8,73.9 L296.7,73.1 L297.6,72.3 L298.5,71.4 L299.3,70.6 L300.2,69.8 L301.1,69.0 L301.9,68.1 L302.8,67.3 L303.7,66.5 L304.5,65.7 L305.4,64.8 L306.3,64.0 L307.2,63.2 L308.0,62.4 L308.9,61.6 L309.8,60.8 L310.6,60.0 L311.5,59.1 L312.4,58.3 L313.2,57.5 L314.1,56.7 L315.0,55.9 L315.9,55.1 L316.7,54.3 L317.6,53.5 L318.5,52.8 L319.3,52.0 L320.2,51.2 L321.1,50.4 L322.0,49.6 L322.8,48.9 L323.7,48.1 L324.6,47.3 L325.4,46.6 L326.3,45.8 L327.2,45.1 L328.0,44.3 L328.9,43.6 L329.8,42.8 L330.7,42.0 L331.5,41.3 L332.4,40.5 L333.3,39.8 L334.1,39.0 L335.0,38.3 L335.9,37.5 L336.7,36.8 L337.6,36.0 L338.5,35.2 L339.4,34.5 L340.2,33.7 L341.1,33.0 L342.0,32.2 L342.8,31.5 L343.7,30.7 L344.6,29.9 L345.4,29.2 L346.3,28.4 L347.2,27.7 L348.1,26.9 L348.9,26.2 L349.8,25.4" fill="none" stroke="#f07070" stroke-width="1.3" stroke-dasharray="2.8,1.9"/>
<path d="M281.1,94.9 L281.9,93.9 L282.8,93.0 L283.7,92.1 L284.5,91.2 L285.4,90.3 L286.3,89.4 L287.1,88.5 L288.0,87.7 L288.9,86.8 L289.8,85.9 L290.6,85.0 L291.5,84.2 L292.4,83.3 L293.2,82.5 L294.1,81.6 L295.0,80.7 L295.8,79.9 L296.7,79.1 L297.6,78.2 L298.5,77.4 L299.3,76.6 L300.2,75.7 L301.1,74.9 L301.9,74.1 L302.8,73.3 L303.7,72.4 L304.5,71.6 L305.4,70.8 L306.3,70.0 L307.2,69.2 L308.0,68.4 L308.9,67.6 L309.8,66.8 L310.6,66.0 L311.5,65.2 L312.4,64.4 L313.2,63.6 L314.1,62.9 L315.0,62.1 L315.9,61.3 L316.7,60.5 L317.6,59.7 L318.5,59.0 L319.3,58.2 L320.2,57.4 L321.1,56.7 L322.0,55.9 L322.8,55.2 L323.7,54.4 L324.6,53.7 L325.4,53.0 L326.3,52.2 L327.2,51.5 L328.0,50.8 L328.9,50.0 L329.8,49.3 L330.7,48.6 L331.5,47.8 L332.4,47.1 L333.3,46.4 L334.1,45.6 L335.0,44.9 L335.9,44.2 L336.7,43.4 L337.6,42.7 L338.5,42.0 L339.4,41.2 L340.2,40.5 L341.1,39.8 L342.0,39.0 L342.8,38.3 L343.7,37.6 L344.6,36.8 L345.4,36.1 L346.3,35.4 L347.2,34.6 L348.1,33.9 L348.9,33.2 L349.8,32.5" fill="none" stroke="#f07070" stroke-width="1.3" stroke-dasharray="2.8,1.9"/>
<path d="M281.1,104.9 L281.9,104.1 L282.8,103.2 L283.7,102.4 L284.5,101.6 L285.4,100.8 L286.3,100.1 L287.1,99.3 L288.0,98.5 L288.9,97.8 L289.8,97.0 L290.6,96.3 L291.5,95.6 L292.4,94.8 L293.2,94.1 L294.1,93.4 L295.0,92.6 L295.8,91.9 L296.7,91.2 L297.6,90.5 L298.5,89.7 L299.3,89.0 L300.2,88.3 L301.1,87.6 L301.9,86.8 L302.8,86.1 L303.7,85.4 L304.5,84.7 L305.4,84.0 L306.3,83.2 L307.2,82.5 L308.0,81.8 L308.9,81.1 L309.8,80.4 L310.6,79.6 L311.5,78.9 L312.4,78.2 L313.2,77.5 L314.1,76.8 L315.0,76.1 L315.9,75.3 L316.7,74.6 L317.6,73.9 L318.5,73.2 L319.3,72.5 L320.2,71.8 L321.1,71.0 L322.0,70.3 L322.8,69.6 L323.7,68.9 L324.6,68.2 L325.4,67.5 L326.3,66.8 L327.2,66.0 L328.0,65.3 L328.9,64.6 L329.8,63.9 L330.7,63.2 L331.5,62.5 L332.4,61.8 L333.3,61.0 L334.1,60.3 L335.0,59.6 L335.9,58.9 L336.7,58.2 L337.6,57.5 L338.5,56.8 L339.4,56.1 L340.2,55.3 L341.1,54.6 L342.0,53.9 L342.8,53.2 L343.7,52.5 L344.6,51.8 L345.4,51.1 L346.3,50.3 L347.2,49.6 L348.1,48.9 L348.9,48.2 L349.8,47.5" fill="none" stroke="#f07070" stroke-width="1.3" stroke-dasharray="2.8,1.9"/>
<path d="M281.1,123.1 L281.9,121.9 L282.8,120.8 L283.7,119.7 L284.5,118.7 L285.4,117.7 L286.3,116.8 L287.1,115.9 L288.0,115.0 L288.9,114.2 L289.8,113.3 L290.6,112.5 L291.5,111.7 L292.4,110.9 L293.2,110.2 L294.1,109.4 L295.0,108.6 L295.8,107.9 L296.7,107.1 L297.6,106.4 L298.5,105.6 L299.3,104.9 L300.2,104.1 L301.1,103.4 L301.9,102.6 L302.8,101.9 L303.7,101.1 L304.5,100.4 L305.4,99.6 L306.3,98.9 L307.2,98.1 L308.0,97.4 L308.9,96.6 L309.8,95.8 L310.6,95.1 L311.5,94.3 L312.4,93.6 L313.2,92.8 L314.1,92.1 L315.0,91.3 L315.9,90.5 L316.7,89.8 L317.6,89.0 L318.5,88.3 L319.3,87.5 L320.2,86.8 L321.1,86.0 L322.0,85.3 L322.8,84.5 L323.7,83.8 L324.6,83.1 L325.4,82.4 L326.3,81.6 L327.2,80.9 L328.0,80.2 L328.9,79.4 L329.8,78.7 L330.7,78.0 L331.5,77.2 L332.4,76.5 L333.3,75.8 L334.1,75.0 L335.0,74.3 L335.9,73.5 L336.7,72.8 L337.6,72.1 L338.5,71.3 L339.4,70.6 L340.2,69.9 L341.1,69.1 L342.0,68.4 L342.8,67.6 L343.7,66.9 L344.6,66.2 L345.4,65.4 L346.3,64.7 L347.2,64.0 L348.1,63.2 L348.9,62.5 L349.8,61.7" fill="none" stroke="#f07070" stroke-width="1.3" stroke-dasharray="2.8,1.9"/>
<path d="M281.1,131.4 L281.9,130.2 L282.8,129.1 L283.7,128.0 L284.5,127.0 L285.4,126.0 L286.3,125.0 L287.1,124.1 L288.0,123.1 L288.9,122.2 L289.8,121.4 L290.6,120.5 L291.5,119.6 L292.4,118.8 L293.2,117.9 L294.1,117.1 L295.0,116.3 L295.8,115.5 L296.7,114.7 L297.6,113.9 L298.5,113.1 L299.3,112.3 L300.2,111.5 L301.1,110.7 L301.9,109.9 L302.8,109.1 L303.7,108.3 L304.5,107.5 L305.4,106.7 L306.3,105.9 L307.2,105.1 L308.0,104.3 L308.9,103.5 L309.8,102.8 L310.6,102.0 L311.5,101.2 L312.4,100.4 L313.2,99.6 L314.1,98.9 L315.0,98.1 L315.9,97.3 L316.7,96.5 L317.6,95.8 L318.5,95.0 L319.3,94.2 L320.2,93.5 L321.1,92.7 L322.0,92.0 L322.8,91.2 L323.7,90.5 L324.6,89.7 L325.4,89.0 L326.3,88.2 L327.2,87.5 L328.0,86.8 L328.9,86.0 L329.8,85.3 L330.7,84.5 L331.5,83.8 L332.4,83.1 L333.3,82.3 L334.1,81.6 L335.0,80.8 L335.9,80.1 L336.7,79.4 L337.6,78.6 L338.5,77.9 L339.4,77.1 L340.2,76.4 L341.1,75.6 L342.0,74.9 L342.8,74.2 L343.7,73.4 L344.6,72.7 L345.4,71.9 L346.3,71.2 L347.2,70.5 L348.1,69.7 L348.9,69.0 L349.8,68.2" fill="none" stroke="#f07070" stroke-width="1.3" stroke-dasharray="2.8,1.9"/>
<path d="M104.6,356.9 L105.5,356.1 L106.4,355.3 L107.2,354.5 L108.1,353.7 L109.0,352.9 L109.9,352.2 L110.7,351.4 L111.6,350.6 L112.5,349.9 L113.4,349.1 L114.2,348.4 L115.1,347.6 L116.0,346.9 L116.9,346.2 L117.7,345.4 L118.6,344.7 L119.5,344.0 L120.4,343.3 L121.2,342.5 L122.1,341.8 L123.0,341.1 L123.9,340.4 L124.7,339.7 L125.6,339.0 L126.5,338.3 L127.4,337.6 L128.3,336.9 L129.1,336.2 L130.0,335.5 L130.9,334.8 L131.8,334.1 L132.6,333.4 L133.5,332.7 L134.4,332.0 L135.3,331.3 L136.1,330.6 L137.0,329.9 L137.9,329.2 L138.8,328.6 L139.6,327.9 L140.5,327.2 L141.4,326.5 L142.3,325.8 L143.1,325.1 L144.0,324.5 L144.9,323.8 L145.8,323.1 L146.6,322.4 L147.5,321.8 L148.4,321.1 L149.3,320.4 L150.1,319.7 L151.0,319.1 L151.9,318.4 L152.8,317.7 L153.7,317.0 L154.5,316.4 L155.4,315.7 L156.3,315.0 L157.2,314.4 L158.0,313.7 L158.9,313.0 L159.8,312.4 L160.7,311.7 L161.5,311.0 L162.4,310.4 L163.3,309.7 L164.2,309.0 L165.0,308.4 L165.9,307.7 L166.8,307.1 L167.7,306.4 L168.5,305.7 L169.4,305.1 L170.3,304.4 L171.2,303.8 L172.0,303.1 L172.9,302.5 L173.8,301.8" fill="none" stroke="#f07070" stroke-width="1.3" stroke-dasharray="2.8,1.9"/>
<path d="M104.6,364.6 L105.5,363.8 L106.4,363.0 L107.2,362.1 L108.1,361.3 L109.0,360.5 L109.9,359.8 L110.7,359.0 L111.6,358.2 L112.5,357.4 L113.4,356.6 L114.2,355.9 L115.1,355.1 L116.0,354.4 L116.9,353.6 L117.7,352.9 L118.6,352.1 L119.5,351.4 L120.4,350.6 L121.2,349.9 L122.1,349.2 L123.0,348.4 L123.9,347.7 L124.7,347.0 L125.6,346.2 L126.5,345.5 L127.4,344.8 L128.3,344.1 L129.1,343.4 L130.0,342.6 L130.9,341.9 L131.8,341.2 L132.6,340.5 L133.5,339.8 L134.4,339.1 L135.3,338.4 L136.1,337.7 L137.0,336.9 L137.9,336.2 L138.8,335.5 L139.6,334.8 L140.5,334.1 L141.4,333.4 L142.3,332.7 L143.1,332.0 L144.0,331.3 L144.9,330.6 L145.8,329.9 L146.6,329.2 L147.5,328.5 L148.4,327.8 L149.3,327.1 L150.1,326.4 L151.0,325.7 L151.9,325.1 L152.8,324.4 L153.7,323.7 L154.5,323.0 L155.4,322.3 L156.3,321.6 L157.2,320.9 L158.0,320.2 L158.9,319.5 L159.8,318.8 L160.7,318.2 L161.5,317.5 L162.4,316.8 L163.3,316.1 L164.2,315.4 L165.0,314.7 L165.9,314.0 L166.8,313.4 L167.7,312.7 L168.5,312.0 L169.4,311.3 L170.3,310.6 L171.2,310.0 L172.0,309.3 L172.9,308.6 L173.8,308.0" fill="none" stroke="#f07070" stroke-width="1.3" stroke-dasharray="2.8,1.9"/>
<path d="M104.6,378.7 L105.5,377.9 L106.4,377.1 L107.2,376.2 L108.1,375.4 L109.0,374.6 L109.9,373.8 L110.7,373.0 L111.6,372.2 L112.5,371.4 L113.4,370.6 L114.2,369.8 L115.1,369.1 L116.0,368.3 L116.9,367.5 L117.7,366.7 L118.6,366.0 L119.5,365.2 L120.4,364.4 L121.2,363.7 L122.1,362.9 L123.0,362.2 L123.9,361.4 L124.7,360.7 L125.6,359.9 L126.5,359.2 L127.4,358.4 L128.3,357.7 L129.1,356.9 L130.0,356.2 L130.9,355.5 L131.8,354.7 L132.6,354.0 L133.5,353.2 L134.4,352.5 L135.3,351.8 L136.1,351.0 L137.0,350.3 L137.9,349.6 L138.8,348.9 L139.6,348.1 L140.5,347.4 L141.4,346.7 L142.3,345.9 L143.1,345.2 L144.0,344.5 L144.9,343.8 L145.8,343.0 L146.6,342.3 L147.5,341.6 L148.4,340.9 L149.3,340.2 L150.1,339.4 L151.0,338.7 L151.9,338.0 L152.8,337.3 L153.7,336.6 L154.5,335.8 L155.4,335.1 L156.3,334.4 L157.2,333.7 L158.0,333.0 L158.9,332.2 L159.8,331.5 L160.7,330.8 L161.5,330.1 L162.4,329.4 L163.3,328.7 L164.2,327.9 L165.0,327.2 L165.9,326.5 L166.8,325.8 L167.7,325.1 L168.5,324.4 L169.4,323.6 L170.3,322.9 L171.2,322.2 L172.0,321.5 L172.9,320.8 L173.8,320.1" fill="none" stroke="#f07070" stroke-width="1.3" stroke-dasharray="2.8,1.9"/>
<path d="M104.6,392.0 L105.5,391.2 L106.4,390.4 L107.2,389.6 L108.1,388.9 L109.0,388.1 L109.9,387.3 L110.7,386.6 L111.6,385.8 L112.5,385.1 L113.4,384.3 L114.2,383.6 L115.1,382.8 L116.0,382.1 L116.9,381.3 L117.7,380.6 L118.6,379.8 L119.5,379.1 L120.4,378.4 L121.2,377.6 L122.1,376.9 L123.0,376.2 L123.9,375.4 L124.7,374.7 L125.6,374.0 L126.5,373.2 L127.4,372.5 L128.3,371.8 L129.1,371.0 L130.0,370.3 L130.9,369.5 L131.8,368.8 L132.6,368.1 L133.5,367.3 L134.4,366.6 L135.3,365.9 L136.1,365.1 L137.0,364.4 L137.9,363.7 L138.8,362.9 L139.6,362.2 L140.5,361.5 L141.4,360.7 L142.3,360.0 L143.1,359.3 L144.0,358.5 L144.9,357.8 L145.8,357.0 L146.6,356.3 L147.5,355.6 L148.4,354.8 L149.3,354.1 L150.1,353.4 L151.0,352.6 L151.9,351.9 L152.8,351.1 L153.7,350.4 L154.5,349.7 L155.4,348.9 L156.3,348.2 L157.2,347.4 L158.0,346.7 L158.9,346.0 L159.8,345.2 L160.7,344.5 L161.5,343.7 L162.4,343.0 L163.3,342.2 L164.2,341.5 L165.0,340.8 L165.9,340.0 L166.8,339.3 L167.7,338.5 L168.5,337.8 L169.4,337.0 L170.3,336.3 L171.2,335.5 L172.0,334.8 L172.9,334.0 L173.8,333.3" fill="none" stroke="#f07070" stroke-width="1.3" stroke-dasharray="2.8,1.9"/>
<path d="M104.6,399.6 L105.5,398.8 L106.4,398.0 L107.2,397.1 L108.1,396.3 L109.0,395.5 L109.9,394.7 L110.7,393.9 L111.6,393.1 L112.5,392.4 L113.4,391.6 L114.2,390.8 L115.1,390.1 L116.0,389.3 L116.9,388.6 L117.7,387.8 L118.6,387.1 L119.5,386.3 L120.4,385.6 L121.2,384.8 L122.1,384.1 L123.0,383.3 L123.9,382.6 L124.7,381.8 L125.6,381.1 L126.5,380.4 L127.4,379.6 L128.3,378.9 L129.1,378.1 L130.0,377.4 L130.9,376.7 L131.8,375.9 L132.6,375.2 L133.5,374.5 L134.4,373.7 L135.3,373.0 L136.1,372.2 L137.0,371.5 L137.9,370.8 L138.8,370.0 L139.6,369.3 L140.5,368.6 L141.4,367.8 L142.3,367.1 L143.1,366.3 L144.0,365.6 L144.9,364.9 L145.8,364.1 L146.6,363.4 L147.5,362.6 L148.4,361.9 L149.3,361.2 L150.1,360.4 L151.0,359.7 L151.9,358.9 L152.8,358.2 L153.7,357.5 L154.5,356.7 L155.4,356.0 L156.3,355.2 L157.2,354.5 L158.0,353.7 L158.9,353.0 L159.8,352.3 L160.7,351.5 L161.5,350.8 L162.4,350.0 L163.3,349.3 L164.2,348.5 L165.0,347.8 L165.9,347.0 L166.8,346.3 L167.7,345.5 L168.5,344.8 L169.4,344.1 L170.3,343.3 L171.2,342.6 L172.0,341.8 L172.9,341.1 L173.8,340.3" fill="none" stroke="#f07070" stroke-width="1.3" stroke-dasharray="2.8,1.9"/>
<path d="M279.1,360.0 L280.0,359.3 L280.9,358.7 L281.7,358.0 L282.6,357.3 L283.5,356.7 L284.4,356.0 L285.3,355.4 L286.1,354.7 L287.0,354.1 L287.9,353.4 L288.8,352.8 L289.7,352.1 L290.5,351.5 L291.4,350.9 L292.3,350.2 L293.2,349.6 L294.1,349.0 L294.9,348.3 L295.8,347.7 L296.7,347.0 L297.6,346.4 L298.5,345.8 L299.3,345.1 L300.2,344.5 L301.1,343.9 L302.0,343.2 L302.9,342.6 L303.7,342.0 L304.6,341.4 L305.5,340.7 L306.4,340.1 L307.3,339.5 L308.1,338.8 L309.0,338.2 L309.9,337.6 L310.8,336.9 L311.7,336.3 L312.5,335.7 L313.4,335.0 L314.3,334.4 L315.2,333.8 L316.0,333.2 L316.9,332.5 L317.8,331.9 L318.7,331.3 L319.6,330.6 L320.4,330.0 L321.3,329.4 L322.2,328.8 L323.1,328.1 L324.0,327.5 L324.8,326.9 L325.7,326.2 L326.6,325.6 L327.5,325.0 L328.4,324.4 L329.2,323.7 L330.1,323.1 L331.0,322.5 L331.9,321.9 L332.8,321.2 L333.6,320.6 L334.5,320.0 L335.4,319.4 L336.3,318.7 L337.2,318.1 L338.0,317.5 L338.9,316.9 L339.8,316.2 L340.7,315.6 L341.6,315.0 L342.4,314.4 L343.3,313.7 L344.2,313.1 L345.1,312.5 L346.0,311.9 L346.8,311.2 L347.7,310.6 L348.6,310.0" fill="none" stroke="#f07070" stroke-width="1.3" stroke-dasharray="2.8,1.9"/>
<path d="M279.1,367.3 L280.0,366.6 L280.9,365.9 L281.7,365.2 L282.6,364.5 L283.5,363.8 L284.4,363.1 L285.3,362.4 L286.1,361.8 L287.0,361.1 L287.9,360.4 L288.8,359.8 L289.7,359.1 L290.5,358.5 L291.4,357.8 L292.3,357.1 L293.2,356.5 L294.1,355.8 L294.9,355.2 L295.8,354.5 L296.7,353.9 L297.6,353.3 L298.5,352.6 L299.3,352.0 L300.2,351.3 L301.1,350.7 L302.0,350.0 L302.9,349.4 L303.7,348.8 L304.6,348.1 L305.5,347.5 L306.4,346.9 L307.3,346.2 L308.1,345.6 L309.0,344.9 L309.9,344.3 L310.8,343.7 L311.7,343.0 L312.5,342.4 L313.4,341.8 L314.3,341.1 L315.2,340.5 L316.0,339.8 L316.9,339.2 L317.8,338.6 L318.7,337.9 L319.6,337.3 L320.4,336.7 L321.3,336.0 L322.2,335.4 L323.1,334.8 L324.0,334.1 L324.8,333.5 L325.7,332.9 L326.6,332.2 L327.5,331.6 L328.4,331.0 L329.2,330.3 L330.1,329.7 L331.0,329.1 L331.9,328.4 L332.8,327.8 L333.6,327.2 L334.5,326.5 L335.4,325.9 L336.3,325.3 L337.2,324.7 L338.0,324.0 L338.9,323.4 L339.8,322.8 L340.7,322.1 L341.6,321.5 L342.4,320.9 L343.3,320.2 L344.2,319.6 L345.1,319.0 L346.0,318.4 L346.8,317.7 L347.7,317.1 L348.6,316.5" fill="none" stroke="#f07070" stroke-width="1.3" stroke-dasharray="2.8,1.9"/>
<path d="M279.1,382.2 L280.0,381.5 L280.9,380.7 L281.7,380.0 L282.6,379.2 L283.5,378.5 L284.4,377.8 L285.3,377.0 L286.1,376.3 L287.0,375.6 L287.9,374.9 L288.8,374.2 L289.7,373.5 L290.5,372.8 L291.4,372.1 L292.3,371.4 L293.2,370.7 L294.1,370.0 L294.9,369.3 L295.8,368.6 L296.7,368.0 L297.6,367.3 L298.5,366.6 L299.3,365.9 L300.2,365.2 L301.1,364.6 L302.0,363.9 L302.9,363.2 L303.7,362.5 L304.6,361.9 L305.5,361.2 L306.4,360.5 L307.3,359.9 L308.1,359.2 L309.0,358.5 L309.9,357.8 L310.8,357.2 L311.7,356.5 L312.5,355.8 L313.4,355.2 L314.3,354.5 L315.2,353.8 L316.0,353.2 L316.9,352.5 L317.8,351.8 L318.7,351.2 L319.6,350.5 L320.4,349.8 L321.3,349.2 L322.2,348.5 L323.1,347.8 L324.0,347.1 L324.8,346.5 L325.7,345.8 L326.6,345.1 L327.5,344.5 L328.4,343.8 L329.2,343.1 L330.1,342.5 L331.0,341.8 L331.9,341.1 L332.8,340.5 L333.6,339.8 L334.5,339.1 L335.4,338.5 L336.3,337.8 L337.2,337.1 L338.0,336.5 L338.9,335.8 L339.8,335.1 L340.7,334.5 L341.6,333.8 L342.4,333.1 L343.3,332.5 L344.2,331.8 L345.1,331.1 L346.0,330.4 L346.8,329.8 L347.7,329.1 L348.6,328.4" fill="none" stroke="#f07070" stroke-width="1.3" stroke-dasharray="2.8,1.9"/>
<path d="M279.1,396.2 L280.0,395.4 L280.9,394.6 L281.7,393.9 L282.6,393.1 L283.5,392.4 L284.4,391.7 L285.3,390.9 L286.1,390.2 L287.0,389.5 L287.9,388.8 L288.8,388.1 L289.7,387.4 L290.5,386.7 L291.4,386.0 L292.3,385.3 L293.2,384.6 L294.1,383.9 L294.9,383.2 L295.8,382.5 L296.7,381.9 L297.6,381.2 L298.5,380.5 L299.3,379.8 L300.2,379.1 L301.1,378.4 L302.0,377.8 L302.9,377.1 L303.7,376.4 L304.6,375.7 L305.5,375.0 L306.4,374.4 L307.3,373.7 L308.1,373.0 L309.0,372.3 L309.9,371.6 L310.8,370.9 L311.7,370.3 L312.5,369.6 L313.4,368.9 L314.3,368.2 L315.2,367.5 L316.0,366.9 L316.9,366.2 L317.8,365.5 L318.7,364.8 L319.6,364.1 L320.4,363.5 L321.3,362.8 L322.2,362.1 L323.1,361.4 L324.0,360.7 L324.8,360.0 L325.7,359.4 L326.6,358.7 L327.5,358.0 L328.4,357.3 L329.2,356.6 L330.1,356.0 L331.0,355.3 L331.9,354.6 L332.8,353.9 L333.6,353.2 L334.5,352.5 L335.4,351.9 L336.3,351.2 L337.2,350.5 L338.0,349.8 L338.9,349.1 L339.8,348.4 L340.7,347.7 L341.6,347.1 L342.4,346.4 L343.3,345.7 L344.2,345.0 L345.1,344.3 L346.0,343.6 L346.8,342.9 L347.7,342.3 L348.6,341.6" fill="none" stroke="#f07070" stroke-width="1.3" stroke-dasharray="2.8,1.9"/>
<path d="M279.1,403.3 L280.0,402.4 L280.9,401.5 L281.7,400.7 L282.6,399.9 L283.5,399.1 L284.4,398.3 L285.3,397.5 L286.1,396.8 L287.0,396.1 L287.9,395.3 L288.8,394.6 L289.7,393.9 L290.5,393.2 L291.4,392.5 L292.3,391.8 L293.2,391.1 L294.1,390.4 L294.9,389.7 L295.8,389.0 L296.7,388.3 L297.6,387.6 L298.5,386.9 L299.3,386.2 L300.2,385.5 L301.1,384.8 L302.0,384.1 L302.9,383.4 L303.7,382.7 L304.6,382.0 L305.5,381.3 L306.4,380.6 L307.3,380.0 L308.1,379.3 L309.0,378.6 L309.9,377.9 L310.8,377.2 L311.7,376.5 L312.5,375.8 L313.4,375.1 L314.3,374.4 L315.2,373.7 L316.0,373.0 L316.9,372.3 L317.8,371.6 L318.7,370.9 L319.6,370.2 L320.4,369.5 L321.3,368.8 L322.2,368.1 L323.1,367.4 L324.0,366.7 L324.8,366.0 L325.7,365.3 L326.6,364.6 L327.5,363.9 L328.4,363.2 L329.2,362.5 L330.1,361.9 L331.0,361.2 L331.9,360.5 L332.8,359.8 L333.6,359.1 L334.5,358.4 L335.4,357.7 L336.3,357.0 L337.2,356.3 L338.0,355.6 L338.9,354.9 L339.8,354.2 L340.7,353.5 L341.6,352.8 L342.4,352.1 L343.3,351.4 L344.2,350.7 L345.1,350.0 L346.0,349.3 L346.8,348.6 L347.7,347.9 L348.6,347.2" fill="none" stroke="#f07070" stroke-width="1.3" stroke-dasharray="2.8,1.9"/>
<path d="M38.4,176.8 L39.9,174.5 L41.4,172.1 L42.9,169.7 L44.4,167.3 L45.9,165.0 L47.4,162.6 L48.9,160.2 L50.4,157.9 L51.9,155.5 L53.4,153.2 L54.9,150.8 L56.4,148.4 L57.9,146.1 L59.4,143.8 L60.9,141.4 L62.4,139.1 L63.9,136.8 L65.4,134.5 L66.9,132.2 L68.4,129.9 L69.9,127.6 L71.4,125.4 L72.9,123.1 L74.4,120.9 L75.9,118.7 L77.4,116.5 L78.9,114.4 L80.4,112.3 L81.9,110.2 L83.4,108.2 L84.9,106.1 L86.4,104.2 L87.9,102.2 L89.4,100.3 L90.9,98.5 L92.4,96.6 L93.9,94.9 L95.4,93.1 L96.9,91.4 L98.4,89.7 L99.9,88.1 L101.4,86.5 L102.9,84.9 L104.4,83.4 L105.9,81.9 L107.4,80.4 L108.9,78.9 L110.4,77.4 L111.9,76.0 L113.4,74.5 L114.9,73.1 L116.4,71.7 L117.9,70.3 L119.4,68.9 L120.9,67.6 L122.4,66.2 L123.9,64.8 L125.4,63.5 L126.9,62.1 L128.4,60.7 L129.9,59.4 L131.4,58.0 L132.9,56.7 L134.4,55.4 L135.9,54.0 L137.4,52.7 L138.9,51.3 L140.4,50.0 L141.9,48.7 L143.4,47.3 L144.9,46.0 L146.4,44.7 L147.9,43.3 L149.4,42.0 L150.9,40.7 L152.4,39.3 L153.9,38.0 L155.4,36.7 L156.9,35.3 L158.4,34.0 L159.9,32.7 L161.4,31.3 L162.9,30.0 L164.4,28.7 L165.9,27.4 L167.4,26.0 L168.9,24.7 L170.4,23.4 L171.9,22.0 L173.4,20.7 L174.9,19.4 L176.4,18.0 L176.5,18.0" fill="none" stroke="#4c4c4c" stroke-width="1.05"/>
<path d="M38.4,182.9 L39.9,180.6 L41.4,178.3 L42.9,176.1 L44.4,173.8 L45.9,171.5 L47.4,169.2 L48.9,166.9 L50.4,164.7 L51.9,162.4 L53.4,160.1 L54.9,157.8 L56.4,155.6 L57.9,153.3 L59.4,151.0 L60.9,148.8 L62.4,146.5 L63.9,144.3 L65.4,142.0 L66.9,139.8 L68.4,137.5 L69.9,135.3 L71.4,133.1 L72.9,130.9 L74.4,128.7 L75.9,126.5 L77.4,124.3 L78.9,122.2 L80.4,120.0 L81.9,117.9 L83.4,115.8 L84.9,113.8 L86.4,111.7 L87.9,109.8 L89.4,107.8 L90.9,105.9 L92.4,104.0 L93.9,102.2 L95.4,100.4 L96.9,98.6 L98.4,96.9 L99.9,95.2 L101.4,93.6 L102.9,92.0 L104.4,90.4 L105.9,88.8 L107.4,87.3 L108.9,85.8 L110.4,84.4 L111.9,82.9 L113.4,81.5 L114.9,80.0 L116.4,78.6 L117.9,77.2 L119.4,75.8 L120.9,74.5 L122.4,73.1 L123.9,71.7 L125.4,70.4 L126.9,69.0 L128.4,67.7 L129.9,66.3 L131.4,65.0 L132.9,63.6 L134.4,62.3 L135.9,60.9 L137.4,59.6 L138.9,58.2 L140.4,56.9 L141.9,55.6 L143.4,54.2 L144.9,52.9 L146.4,51.6 L147.9,50.2 L149.4,48.9 L150.9,47.6 L152.4,46.2 L153.9,44.9 L155.4,43.6 L156.9,42.2 L158.4,40.9 L159.9,39.5 L161.4,38.2 L162.9,36.9 L164.4,35.5 L165.9,34.2 L167.4,32.9 L168.9,31.5 L170.4,30.2 L171.9,28.9 L173.4,27.5 L174.9,26.2 L176.4,24.9 L176.5,24.8" fill="none" stroke="#4c4c4c" stroke-width="1.05"/>
<path d="M38.4,197.8 L39.9,195.6 L41.4,193.4 L42.9,191.1 L44.4,188.9 L45.9,186.7 L47.4,184.5 L48.9,182.3 L50.4,180.1 L51.9,177.8 L53.4,175.6 L54.9,173.4 L56.4,171.2 L57.9,169.0 L59.4,166.8 L60.9,164.6 L62.4,162.3 L63.9,160.1 L65.4,157.9 L66.9,155.7 L68.4,153.5 L69.9,151.3 L71.4,149.1 L72.9,146.9 L74.4,144.7 L75.9,142.5 L77.4,140.3 L78.9,138.1 L80.4,135.9 L81.9,133.7 L83.4,131.6 L84.9,129.4 L86.4,127.3 L87.9,125.2 L89.4,123.1 L90.9,121.1 L92.4,119.1 L93.9,117.1 L95.4,115.2 L96.9,113.4 L98.4,111.6 L99.9,109.9 L101.4,108.2 L102.9,106.6 L104.4,105.0 L105.9,103.5 L107.4,102.0 L108.9,100.5 L110.4,99.1 L111.9,97.6 L113.4,96.2 L114.9,94.9 L116.4,93.5 L117.9,92.1 L119.4,90.8 L120.9,89.4 L122.4,88.1 L123.9,86.7 L125.4,85.4 L126.9,84.0 L128.4,82.7 L129.9,81.3 L131.4,80.0 L132.9,78.7 L134.4,77.3 L135.9,76.0 L137.4,74.7 L138.9,73.3 L140.4,72.0 L141.9,70.6 L143.4,69.3 L144.9,68.0 L146.4,66.6 L147.9,65.3 L149.4,64.0 L150.9,62.6 L152.4,61.3 L153.9,60.0 L155.4,58.6 L156.9,57.3 L158.4,56.0 L159.9,54.6 L161.4,53.3 L162.9,52.0 L164.4,50.6 L165.9,49.3 L167.4,47.9 L168.9,46.6 L170.4,45.3 L171.9,43.9 L173.4,42.6 L174.9,41.3 L176.4,39.9 L176.5,39.8" fill="none" stroke="#4c4c4c" stroke-width="1.05"/>
<path d="M38.4,212.4 L39.9,210.6 L41.4,208.8 L42.9,207.0 L44.4,205.2 L45.9,203.4 L47.4,201.6 L48.9,199.8 L50.4,197.9 L51.9,196.0 L53.4,194.0 L54.9,191.9 L56.4,189.7 L57.9,187.4 L59.4,185.2 L60.9,182.9 L62.4,180.7 L63.9,178.4 L65.4,176.2 L66.9,174.0 L68.4,171.7 L69.9,169.5 L71.4,167.2 L72.9,165.0 L74.4,162.8 L75.9,160.5 L77.4,158.3 L78.9,156.0 L80.4,153.8 L81.9,151.6 L83.4,149.4 L84.9,147.1 L86.4,144.9 L87.9,142.7 L89.4,140.5 L90.9,138.3 L92.4,136.1 L93.9,134.0 L95.4,131.9 L96.9,129.8 L98.4,127.7 L99.9,125.7 L101.4,123.8 L102.9,121.9 L104.4,120.0 L105.9,118.3 L107.4,116.6 L108.9,115.0 L110.4,113.4 L111.9,111.9 L113.4,110.4 L114.9,109.0 L116.4,107.6 L117.9,106.2 L119.4,104.8 L120.9,103.5 L122.4,102.1 L123.9,100.8 L125.4,99.5 L126.9,98.2 L128.4,96.9 L129.9,95.6 L131.4,94.3 L132.9,93.0 L134.4,91.7 L135.9,90.4 L137.4,89.1 L138.9,87.8 L140.4,86.5 L141.9,85.2 L143.4,83.9 L144.9,82.6 L146.4,81.3 L147.9,80.0 L149.4,78.7 L150.9,77.4 L152.4,76.1 L153.9,74.8 L155.4,73.5 L156.9,72.2 L158.4,70.9 L159.9,69.6 L161.4,68.3 L162.9,67.0 L164.4,65.7 L165.9,64.4 L167.4,63.1 L168.9,61.8 L170.4,60.5 L171.9,59.2 L173.4,57.9 L174.9,56.6 L176.4,55.3 L176.5,55.2" fill="none" stroke="#4c4c4c" stroke-width="1.05"/>
<path d="M38.4,220.2 L39.9,218.5 L41.4,216.9 L42.9,215.2 L44.4,213.5 L45.9,211.8 L47.4,210.1 L48.9,208.3 L50.4,206.6 L51.9,204.8 L53.4,202.9 L54.9,201.1 L56.4,199.2 L57.9,197.3 L59.4,195.3 L60.9,193.4 L62.4,191.3 L63.9,189.3 L65.4,187.2 L66.9,185.0 L68.4,182.9 L69.9,180.6 L71.4,178.4 L72.9,176.1 L74.4,173.8 L75.9,171.5 L77.4,169.2 L78.9,166.9 L80.4,164.5 L81.9,162.1 L83.4,159.8 L84.9,157.4 L86.4,155.1 L87.9,152.8 L89.4,150.5 L90.9,148.2 L92.4,146.0 L93.9,143.8 L95.4,141.6 L96.9,139.5 L98.4,137.4 L99.9,135.3 L101.4,133.3 L102.9,131.4 L104.4,129.4 L105.9,127.6 L107.4,125.7 L108.9,123.9 L110.4,122.1 L111.9,120.4 L113.4,118.7 L114.9,117.1 L116.4,115.5 L117.9,113.9 L119.4,112.3 L120.9,110.8 L122.4,109.3 L123.9,107.8 L125.4,106.3 L126.9,104.9 L128.4,103.5 L129.9,102.1 L131.4,100.7 L132.9,99.3 L134.4,97.9 L135.9,96.6 L137.4,95.3 L138.9,93.9 L140.4,92.6 L141.9,91.3 L143.4,90.0 L144.9,88.7 L146.4,87.4 L147.9,86.1 L149.4,84.9 L150.9,83.6 L152.4,82.3 L153.9,81.0 L155.4,79.8 L156.9,78.5 L158.4,77.3 L159.9,76.0 L161.4,74.7 L162.9,73.5 L164.4,72.2 L165.9,71.0 L167.4,69.7 L168.9,68.5 L170.4,67.3 L171.9,66.0 L173.4,64.8 L174.9,63.5 L176.4,62.3 L176.5,62.2" fill="none" stroke="#4c4c4c" stroke-width="1.05"/>
<path d="M212.3,184.0 L213.8,181.5 L215.3,178.9 L216.8,176.4 L218.3,173.8 L219.8,171.3 L221.3,168.7 L222.8,166.2 L224.3,163.6 L225.8,161.1 L227.3,158.5 L228.8,156.0 L230.3,153.5 L231.8,150.9 L233.3,148.4 L234.8,145.9 L236.3,143.4 L237.8,140.9 L239.3,138.5 L240.8,136.0 L242.3,133.6 L243.8,131.2 L245.3,128.8 L246.8,126.4 L248.3,124.1 L249.8,121.8 L251.3,119.6 L252.8,117.4 L254.3,115.2 L255.8,113.1 L257.3,111.1 L258.8,109.1 L260.3,107.2 L261.8,105.3 L263.3,103.5 L264.8,101.8 L266.3,100.1 L267.8,98.4 L269.3,96.8 L270.8,95.3 L272.3,93.8 L273.8,92.3 L275.3,90.8 L276.8,89.4 L278.3,87.9 L279.8,86.5 L281.3,85.2 L282.8,83.8 L284.3,82.4 L285.8,81.1 L287.3,79.7 L288.8,78.4 L290.3,77.1 L291.8,75.7 L293.3,74.4 L294.8,73.1 L296.3,71.8 L297.8,70.5 L299.3,69.1 L300.8,67.8 L302.3,66.5 L303.8,65.2 L305.3,63.9 L306.8,62.6 L308.3,61.3 L309.8,60.0 L311.3,58.7 L312.8,57.4 L314.3,56.1 L315.8,54.8 L317.3,53.5 L318.8,52.2 L320.3,50.9 L321.8,49.5 L323.3,48.2 L324.8,46.9 L326.3,45.6 L327.8,44.3 L329.3,43.0 L330.8,41.7 L332.3,40.4 L333.8,39.1 L335.3,37.8 L336.8,36.5 L338.3,35.2 L339.8,33.9 L341.3,32.6 L342.8,31.3 L344.3,30.0 L345.8,28.7 L347.3,27.4 L348.8,26.1 L349.8,25.2" fill="none" stroke="#4c4c4c" stroke-width="1.05"/>
<path d="M212.3,188.7 L213.8,186.4 L215.3,184.0 L216.8,181.7 L218.3,179.4 L219.8,177.1 L221.3,174.8 L222.8,172.6 L224.3,170.4 L225.8,168.2 L227.3,166.0 L228.8,163.8 L230.3,161.5 L231.8,159.0 L233.3,156.3 L234.8,153.5 L236.3,150.8 L237.8,148.1 L239.3,145.5 L240.8,142.9 L242.3,140.3 L243.8,137.9 L245.3,135.4 L246.8,133.0 L248.3,130.7 L249.8,128.5 L251.3,126.3 L252.8,124.1 L254.3,122.0 L255.8,120.0 L257.3,118.0 L258.8,116.0 L260.3,114.1 L261.8,112.3 L263.3,110.5 L264.8,108.7 L266.3,107.0 L267.8,105.3 L269.3,103.6 L270.8,102.0 L272.3,100.4 L273.8,98.9 L275.3,97.3 L276.8,95.8 L278.3,94.3 L279.8,92.9 L281.3,91.4 L282.8,90.0 L284.3,88.6 L285.8,87.2 L287.3,85.8 L288.8,84.4 L290.3,83.1 L291.8,81.7 L293.3,80.4 L294.8,79.1 L296.3,77.7 L297.8,76.4 L299.3,75.1 L300.8,73.8 L302.3,72.5 L303.8,71.2 L305.3,69.9 L306.8,68.6 L308.3,67.3 L309.8,66.0 L311.3,64.7 L312.8,63.5 L314.3,62.2 L315.8,60.9 L317.3,59.6 L318.8,58.4 L320.3,57.1 L321.8,55.8 L323.3,54.6 L324.8,53.3 L326.3,52.0 L327.8,50.8 L329.3,49.5 L330.8,48.2 L332.3,47.0 L333.8,45.7 L335.3,44.4 L336.8,43.2 L338.3,41.9 L339.8,40.7 L341.3,39.4 L342.8,38.1 L344.3,36.9 L345.8,35.6 L347.3,34.4 L348.8,33.1 L349.8,32.3" fill="none" stroke="#4c4c4c" stroke-width="1.05"/>
<path d="M212.3,199.7 L213.8,197.6 L215.3,195.4 L216.8,193.3 L218.3,191.1 L219.8,189.0 L221.3,186.8 L222.8,184.7 L224.3,182.5 L225.8,180.4 L227.3,178.3 L228.8,176.1 L230.3,174.0 L231.8,171.8 L233.3,169.7 L234.8,167.5 L236.3,165.4 L237.8,163.2 L239.3,161.1 L240.8,159.0 L242.3,156.8 L243.8,154.7 L245.3,152.5 L246.8,150.4 L248.3,148.2 L249.8,146.1 L251.3,144.0 L252.8,141.8 L254.3,139.7 L255.8,137.5 L257.3,135.4 L258.8,133.3 L260.3,131.1 L261.8,129.0 L263.3,126.9 L264.8,124.8 L266.3,122.7 L267.8,120.6 L269.3,118.6 L270.8,116.5 L272.3,114.6 L273.8,112.7 L275.3,110.9 L276.8,109.1 L278.3,107.5 L279.8,105.9 L281.3,104.4 L282.8,103.0 L284.3,101.6 L285.8,100.2 L287.3,98.9 L288.8,97.6 L290.3,96.4 L291.8,95.1 L293.3,93.9 L294.8,92.6 L296.3,91.4 L297.8,90.1 L299.3,88.9 L300.8,87.7 L302.3,86.4 L303.8,85.2 L305.3,84.0 L306.8,82.7 L308.3,81.5 L309.8,80.3 L311.3,79.1 L312.8,77.8 L314.3,76.6 L315.8,75.4 L317.3,74.1 L318.8,72.9 L320.3,71.7 L321.8,70.4 L323.3,69.2 L324.8,68.0 L326.3,66.8 L327.8,65.5 L329.3,64.3 L330.8,63.1 L332.3,61.8 L333.8,60.6 L335.3,59.4 L336.8,58.1 L338.3,56.9 L339.8,55.7 L341.3,54.5 L342.8,53.2 L344.3,52.0 L345.8,50.8 L347.3,49.5 L348.8,48.3 L349.8,47.5" fill="none" stroke="#4c4c4c" stroke-width="1.05"/>
<path d="M212.3,213.1 L213.8,211.3 L215.3,209.5 L216.8,207.7 L218.3,205.8 L219.8,204.0 L221.3,202.1 L222.8,200.3 L224.3,198.5 L225.8,196.6 L227.3,194.8 L228.8,192.9 L230.3,191.0 L231.8,189.2 L233.3,187.3 L234.8,185.4 L236.3,183.5 L237.8,181.6 L239.3,179.7 L240.8,177.8 L242.3,175.9 L243.8,173.9 L245.3,172.0 L246.8,170.0 L248.3,168.0 L249.8,166.0 L251.3,163.9 L252.8,161.9 L254.3,159.8 L255.8,157.7 L257.3,155.5 L258.8,153.4 L260.3,151.2 L261.8,149.0 L263.3,146.7 L264.8,144.4 L266.3,142.1 L267.8,139.8 L269.3,137.5 L270.8,135.1 L272.3,132.8 L273.8,130.4 L275.3,128.2 L276.8,125.9 L278.3,123.8 L279.8,121.7 L281.3,119.8 L282.8,118.0 L284.3,116.3 L285.8,114.8 L287.3,113.3 L288.8,112.0 L290.3,110.7 L291.8,109.4 L293.3,108.2 L294.8,107.0 L296.3,105.9 L297.8,104.7 L299.3,103.5 L300.8,102.3 L302.3,101.1 L303.8,99.9 L305.3,98.7 L306.8,97.5 L308.3,96.3 L309.8,95.1 L311.3,93.9 L312.8,92.7 L314.3,91.4 L315.8,90.2 L317.3,88.9 L318.8,87.7 L320.3,86.4 L321.8,85.2 L323.3,83.9 L324.8,82.7 L326.3,81.4 L327.8,80.2 L329.3,78.9 L330.8,77.6 L332.3,76.4 L333.8,75.1 L335.3,73.8 L336.8,72.6 L338.3,71.3 L339.8,70.0 L341.3,68.7 L342.8,67.5 L344.3,66.2 L345.8,64.9 L347.3,63.7 L348.8,62.4 L349.8,61.5" fill="none" stroke="#4c4c4c" stroke-width="1.05"/>
<path d="M212.3,220.5 L213.8,218.8 L215.3,217.1 L216.8,215.5 L218.3,213.8 L219.8,212.1 L221.3,210.4 L222.8,208.7 L224.3,207.0 L225.8,205.3 L227.3,203.6 L228.8,201.8 L230.3,200.1 L231.8,198.3 L233.3,196.6 L234.8,194.8 L236.3,193.0 L237.8,191.2 L239.3,189.3 L240.8,187.5 L242.3,185.6 L243.8,183.7 L245.3,181.7 L246.8,179.7 L248.3,177.7 L249.8,175.6 L251.3,173.5 L252.8,171.4 L254.3,169.2 L255.8,167.0 L257.3,164.8 L258.8,162.6 L260.3,160.3 L261.8,157.9 L263.3,155.6 L264.8,153.2 L266.3,150.9 L267.8,148.5 L269.3,146.1 L270.8,143.7 L272.3,141.4 L273.8,139.0 L275.3,136.8 L276.8,134.5 L278.3,132.4 L279.8,130.4 L281.3,128.4 L282.8,126.6 L284.3,124.9 L285.8,123.3 L287.3,121.8 L288.8,120.3 L290.3,118.9 L291.8,117.6 L293.3,116.2 L294.8,114.9 L296.3,113.6 L297.8,112.3 L299.3,111.0 L300.8,109.8 L302.3,108.5 L303.8,107.2 L305.3,105.9 L306.8,104.6 L308.3,103.4 L309.8,102.1 L311.3,100.8 L312.8,99.5 L314.3,98.3 L315.8,97.0 L317.3,95.7 L318.8,94.4 L320.3,93.2 L321.8,91.9 L323.3,90.6 L324.8,89.3 L326.3,88.0 L327.8,86.8 L329.3,85.5 L330.8,84.2 L332.3,82.9 L333.8,81.7 L335.3,80.4 L336.8,79.1 L338.3,77.8 L339.8,76.6 L341.3,75.3 L342.8,74.0 L344.3,72.7 L345.8,71.4 L347.3,70.2 L348.8,68.9 L349.8,68.0" fill="none" stroke="#4c4c4c" stroke-width="1.05"/>
<path d="M35.4,455.1 L36.9,452.3 L38.4,449.4 L39.9,446.6 L41.4,443.7 L42.9,440.9 L44.4,438.1 L45.9,435.3 L47.4,432.5 L48.9,429.7 L50.4,427.0 L51.9,424.2 L53.4,421.5 L54.9,418.8 L56.4,416.2 L57.9,413.6 L59.4,411.0 L60.9,408.4 L62.4,405.9 L63.9,403.4 L65.4,400.9 L66.9,398.5 L68.4,396.1 L69.9,393.8 L71.4,391.5 L72.9,389.3 L74.4,387.1 L75.9,385.0 L77.4,383.0 L78.9,380.9 L80.4,379.0 L81.9,377.1 L83.4,375.2 L84.9,373.4 L86.4,371.7 L87.9,369.9 L89.4,368.3 L90.9,366.7 L92.4,365.1 L93.9,363.5 L95.4,362.0 L96.9,360.6 L98.4,359.1 L99.9,357.7 L101.4,356.4 L102.9,355.0 L104.4,353.7 L105.9,352.4 L107.4,351.1 L108.9,349.8 L110.4,348.6 L111.9,347.3 L113.4,346.1 L114.9,344.9 L116.4,343.7 L117.9,342.5 L119.4,341.3 L120.9,340.2 L122.4,339.0 L123.9,337.8 L125.4,336.7 L126.9,335.5 L128.4,334.4 L129.9,333.2 L131.4,332.1 L132.9,331.0 L134.4,329.8 L135.9,328.7 L137.4,327.6 L138.9,326.5 L140.4,325.3 L141.9,324.2 L143.4,323.1 L144.9,322.0 L146.4,320.9 L147.9,319.8 L149.4,318.6 L150.9,317.5 L152.4,316.4 L153.9,315.3 L155.4,314.2 L156.9,313.1 L158.4,312.0 L159.9,310.9 L161.4,309.8 L162.9,308.7 L164.4,307.6 L165.9,306.4 L167.4,305.3 L168.9,304.2 L170.4,303.1 L171.9,302.0 L173.4,300.9 L173.8,300.6" fill="none" stroke="#4c4c4c" stroke-width="1.05"/>
<path d="M35.4,459.3 L36.9,456.6 L38.4,454.0 L39.9,451.4 L41.4,448.8 L42.9,446.2 L44.4,443.6 L45.9,441.0 L47.4,438.5 L48.9,435.9 L50.4,433.4 L51.9,430.8 L53.4,428.3 L54.9,425.8 L56.4,423.3 L57.9,420.8 L59.4,418.3 L60.9,415.9 L62.4,413.5 L63.9,411.1 L65.4,408.7 L66.9,406.4 L68.4,404.1 L69.9,401.8 L71.4,399.6 L72.9,397.4 L74.4,395.3 L75.9,393.2 L77.4,391.1 L78.9,389.1 L80.4,387.1 L81.9,385.2 L83.4,383.3 L84.9,381.5 L86.4,379.7 L87.9,378.0 L89.4,376.3 L90.9,374.6 L92.4,373.0 L93.9,371.5 L95.4,369.9 L96.9,368.4 L98.4,367.0 L99.9,365.5 L101.4,364.1 L102.9,362.7 L104.4,361.4 L105.9,360.0 L107.4,358.7 L108.9,357.4 L110.4,356.1 L111.9,354.9 L113.4,353.6 L114.9,352.4 L116.4,351.1 L117.9,349.9 L119.4,348.7 L120.9,347.5 L122.4,346.3 L123.9,345.1 L125.4,343.9 L126.9,342.8 L128.4,341.6 L129.9,340.4 L131.4,339.2 L132.9,338.1 L134.4,336.9 L135.9,335.8 L137.4,334.6 L138.9,333.4 L140.4,332.3 L141.9,331.1 L143.4,330.0 L144.9,328.8 L146.4,327.7 L147.9,326.5 L149.4,325.4 L150.9,324.2 L152.4,323.1 L153.9,321.9 L155.4,320.8 L156.9,319.6 L158.4,318.5 L159.9,317.4 L161.4,316.2 L162.9,315.1 L164.4,313.9 L165.9,312.8 L167.4,311.6 L168.9,310.5 L170.4,309.3 L171.9,308.2 L173.4,307.1 L173.8,306.8" fill="none" stroke="#4c4c4c" stroke-width="1.05"/>
<path d="M35.4,472.7 L36.9,470.1 L38.4,467.6 L39.9,465.1 L41.4,462.6 L42.9,460.1 L44.4,457.6 L45.9,455.2 L47.4,452.7 L48.9,450.2 L50.4,447.8 L51.9,445.4 L53.4,443.0 L54.9,440.6 L56.4,438.2 L57.9,435.9 L59.4,433.5 L60.9,431.2 L62.4,428.9 L63.9,426.7 L65.4,424.4 L66.9,422.2 L68.4,420.1 L69.9,417.9 L71.4,415.8 L72.9,413.7 L74.4,411.7 L75.9,409.7 L77.4,407.7 L78.9,405.8 L80.4,403.9 L81.9,402.0 L83.4,400.2 L84.9,398.4 L86.4,396.7 L87.9,394.9 L89.4,393.3 L90.9,391.6 L92.4,390.0 L93.9,388.4 L95.4,386.8 L96.9,385.3 L98.4,383.8 L99.9,382.3 L101.4,380.8 L102.9,379.3 L104.4,377.9 L105.9,376.5 L107.4,375.1 L108.9,373.7 L110.4,372.4 L111.9,371.0 L113.4,369.7 L114.9,368.4 L116.4,367.0 L117.9,365.7 L119.4,364.4 L120.9,363.1 L122.4,361.9 L123.9,360.6 L125.4,359.3 L126.9,358.0 L128.4,356.8 L129.9,355.5 L131.4,354.3 L132.9,353.0 L134.4,351.8 L135.9,350.5 L137.4,349.3 L138.9,348.1 L140.4,346.8 L141.9,345.6 L143.4,344.4 L144.9,343.1 L146.4,341.9 L147.9,340.7 L149.4,339.4 L150.9,338.2 L152.4,337.0 L153.9,335.8 L155.4,334.5 L156.9,333.3 L158.4,332.1 L159.9,330.9 L161.4,329.7 L162.9,328.4 L164.4,327.2 L165.9,326.0 L167.4,324.8 L168.9,323.6 L170.4,322.3 L171.9,321.1 L173.4,319.9 L173.8,319.6" fill="none" stroke="#4c4c4c" stroke-width="1.05"/>
<path d="M35.4,486.7 L36.9,484.5 L38.4,482.3 L39.9,480.1 L41.4,478.0 L42.9,475.8 L44.4,473.6 L45.9,471.5 L47.4,469.3 L48.9,467.1 L50.4,464.9 L51.9,462.8 L53.4,460.6 L54.9,458.4 L56.4,456.2 L57.9,454.1 L59.4,451.9 L60.9,449.7 L62.4,447.6 L63.9,445.4 L65.4,443.2 L66.9,441.1 L68.4,438.9 L69.9,436.8 L71.4,434.6 L72.9,432.5 L74.4,430.3 L75.9,428.2 L77.4,426.1 L78.9,424.0 L80.4,421.9 L81.9,419.8 L83.4,417.8 L84.9,415.8 L86.4,413.8 L87.9,411.9 L89.4,410.0 L90.9,408.1 L92.4,406.4 L93.9,404.6 L95.4,402.9 L96.9,401.3 L98.4,399.7 L99.9,398.2 L101.4,396.7 L102.9,395.2 L104.4,393.8 L105.9,392.4 L107.4,391.0 L108.9,389.6 L110.4,388.3 L111.9,387.0 L113.4,385.6 L114.9,384.3 L116.4,383.0 L117.9,381.7 L119.4,380.4 L120.9,379.1 L122.4,377.8 L123.9,376.5 L125.4,375.2 L126.9,373.9 L128.4,372.6 L129.9,371.3 L131.4,370.0 L132.9,368.7 L134.4,367.5 L135.9,366.2 L137.4,364.9 L138.9,363.6 L140.4,362.3 L141.9,361.0 L143.4,359.7 L144.9,358.4 L146.4,357.1 L147.9,355.8 L149.4,354.6 L150.9,353.3 L152.4,352.0 L153.9,350.7 L155.4,349.4 L156.9,348.1 L158.4,346.8 L159.9,345.5 L161.4,344.2 L162.9,343.0 L164.4,341.7 L165.9,340.4 L167.4,339.1 L168.9,337.8 L170.4,336.5 L171.9,335.2 L173.4,333.9 L173.8,333.6" fill="none" stroke="#4c4c4c" stroke-width="1.05"/>
<path d="M35.4,495.1 L36.9,493.0 L38.4,490.8 L39.9,488.7 L41.4,486.6 L42.9,484.4 L44.4,482.3 L45.9,480.1 L47.4,478.0 L48.9,475.8 L50.4,473.7 L51.9,471.6 L53.4,469.4 L54.9,467.3 L56.4,465.1 L57.9,463.0 L59.4,460.9 L60.9,458.7 L62.4,456.6 L63.9,454.5 L65.4,452.3 L66.9,450.2 L68.4,448.0 L69.9,445.9 L71.4,443.8 L72.9,441.7 L74.4,439.5 L75.9,437.4 L77.4,435.3 L78.9,433.2 L80.4,431.1 L81.9,429.0 L83.4,426.9 L84.9,424.9 L86.4,422.8 L87.9,420.8 L89.4,418.9 L90.9,416.9 L92.4,415.0 L93.9,413.1 L95.4,411.3 L96.9,409.5 L98.4,407.8 L99.9,406.2 L101.4,404.5 L102.9,403.0 L104.4,401.4 L105.9,399.9 L107.4,398.5 L108.9,397.1 L110.4,395.7 L111.9,394.3 L113.4,392.9 L114.9,391.6 L116.4,390.2 L117.9,388.9 L119.4,387.6 L120.9,386.3 L122.4,385.0 L123.9,383.7 L125.4,382.4 L126.9,381.0 L128.4,379.7 L129.9,378.5 L131.4,377.2 L132.9,375.9 L134.4,374.6 L135.9,373.3 L137.4,372.0 L138.9,370.7 L140.4,369.4 L141.9,368.1 L143.4,366.8 L144.9,365.5 L146.4,364.2 L147.9,362.9 L149.4,361.6 L150.9,360.3 L152.4,359.0 L153.9,357.7 L155.4,356.5 L156.9,355.2 L158.4,353.9 L159.9,352.6 L161.4,351.3 L162.9,350.0 L164.4,348.7 L165.9,347.4 L167.4,346.1 L168.9,344.8 L170.4,343.5 L171.9,342.2 L173.4,340.9 L173.8,340.6" fill="none" stroke="#4c4c4c" stroke-width="1.05"/>
<path d="M209.6,461.8 L211.1,459.1 L212.6,456.4 L214.1,453.7 L215.6,450.9 L217.1,448.2 L218.6,445.5 L220.1,442.8 L221.6,440.1 L223.1,437.4 L224.6,434.7 L226.1,432.0 L227.6,429.3 L229.1,426.6 L230.6,423.9 L232.1,421.2 L233.6,418.5 L235.1,415.8 L236.6,413.1 L238.1,410.4 L239.6,407.8 L241.1,405.1 L242.6,402.5 L244.1,399.9 L245.6,397.3 L247.1,394.8 L248.6,392.2 L250.1,389.8 L251.6,387.4 L253.1,385.0 L254.6,382.7 L256.1,380.5 L257.6,378.4 L259.1,376.4 L260.6,374.5 L262.1,372.6 L263.6,370.9 L265.1,369.3 L266.6,367.7 L268.1,366.2 L269.6,364.8 L271.1,363.5 L272.6,362.2 L274.1,361.0 L275.6,359.7 L277.1,358.6 L278.6,357.4 L280.1,356.3 L281.6,355.1 L283.1,354.0 L284.6,352.9 L286.1,351.9 L287.6,350.8 L289.1,349.7 L290.6,348.6 L292.1,347.6 L293.6,346.5 L295.1,345.4 L296.6,344.4 L298.1,343.3 L299.6,342.2 L301.1,341.2 L302.6,340.1 L304.1,339.1 L305.6,338.0 L307.1,336.9 L308.6,335.9 L310.1,334.8 L311.6,333.8 L313.1,332.7 L314.6,331.7 L316.1,330.6 L317.6,329.5 L319.1,328.5 L320.6,327.4 L322.1,326.4 L323.6,325.3 L325.1,324.3 L326.6,323.2 L328.1,322.1 L329.6,321.1 L331.1,320.0 L332.6,319.0 L334.1,317.9 L335.6,316.9 L337.1,315.8 L338.6,314.7 L340.1,313.7 L341.6,312.6 L343.1,311.6 L344.6,310.5 L346.1,309.5 L347.6,308.4 L348.6,307.7" fill="none" stroke="#4c4c4c" stroke-width="1.05"/>
<path d="M209.6,466.1 L211.1,463.5 L212.6,460.9 L214.1,458.3 L215.6,455.7 L217.1,453.1 L218.6,450.5 L220.1,447.9 L221.6,445.3 L223.1,442.7 L224.6,440.1 L226.1,437.5 L227.6,434.9 L229.1,432.3 L230.6,429.7 L232.1,427.1 L233.6,424.6 L235.1,422.0 L236.6,419.4 L238.1,416.9 L239.6,414.4 L241.1,411.8 L242.6,409.3 L244.1,406.9 L245.6,404.4 L247.1,402.0 L248.6,399.6 L250.1,397.3 L251.6,395.0 L253.1,392.7 L254.6,390.5 L256.1,388.4 L257.6,386.4 L259.1,384.4 L260.6,382.5 L262.1,380.6 L263.6,378.9 L265.1,377.2 L266.6,375.6 L268.1,374.1 L269.6,372.6 L271.1,371.2 L272.6,369.8 L274.1,368.5 L275.6,367.2 L277.1,365.9 L278.6,364.7 L280.1,363.5 L281.6,362.3 L283.1,361.2 L284.6,360.0 L286.1,358.9 L287.6,357.8 L289.1,356.7 L290.6,355.6 L292.1,354.5 L293.6,353.4 L295.1,352.3 L296.6,351.2 L298.1,350.1 L299.6,349.1 L301.1,348.0 L302.6,346.9 L304.1,345.8 L305.6,344.8 L307.1,343.7 L308.6,342.6 L310.1,341.6 L311.6,340.5 L313.1,339.4 L314.6,338.4 L316.1,337.3 L317.6,336.2 L319.1,335.2 L320.6,334.1 L322.1,333.0 L323.6,332.0 L325.1,330.9 L326.6,329.8 L328.1,328.8 L329.6,327.7 L331.1,326.6 L332.6,325.6 L334.1,324.5 L335.6,323.4 L337.1,322.4 L338.6,321.3 L340.1,320.2 L341.6,319.2 L343.1,318.1 L344.6,317.0 L346.1,316.0 L347.6,314.9 L348.6,314.2" fill="none" stroke="#4c4c4c" stroke-width="1.05"/>
<path d="M209.6,476.4 L211.1,474.0 L212.6,471.7 L214.1,469.3 L215.6,466.9 L217.1,464.5 L218.6,462.2 L220.1,459.8 L221.6,457.4 L223.1,455.1 L224.6,452.7 L226.1,450.3 L227.6,448.0 L229.1,445.6 L230.6,443.3 L232.1,440.9 L233.6,438.6 L235.1,436.3 L236.6,434.0 L238.1,431.7 L239.6,429.4 L241.1,427.1 L242.6,424.8 L244.1,422.6 L245.6,420.4 L247.1,418.2 L248.6,416.0 L250.1,413.9 L251.6,411.8 L253.1,409.7 L254.6,407.7 L256.1,405.7 L257.6,403.7 L259.1,401.8 L260.6,400.0 L262.1,398.2 L263.6,396.4 L265.1,394.7 L266.6,393.1 L268.1,391.5 L269.6,389.9 L271.1,388.4 L272.6,387.0 L274.1,385.5 L275.6,384.2 L277.1,382.8 L278.6,381.5 L280.1,380.1 L281.6,378.9 L283.1,377.6 L284.6,376.3 L286.1,375.1 L287.6,373.9 L289.1,372.7 L290.6,371.5 L292.1,370.3 L293.6,369.1 L295.1,367.9 L296.6,366.7 L298.1,365.6 L299.6,364.4 L301.1,363.2 L302.6,362.1 L304.1,360.9 L305.6,359.8 L307.1,358.6 L308.6,357.5 L310.1,356.3 L311.6,355.2 L313.1,354.0 L314.6,352.9 L316.1,351.7 L317.6,350.6 L319.1,349.4 L320.6,348.3 L322.1,347.1 L323.6,346.0 L325.1,344.8 L326.6,343.7 L328.1,342.6 L329.6,341.4 L331.1,340.3 L332.6,339.1 L334.1,338.0 L335.6,336.8 L337.1,335.7 L338.6,334.6 L340.1,333.4 L341.6,332.3 L343.1,331.1 L344.6,330.0 L346.1,328.8 L347.6,327.7 L348.6,326.9" fill="none" stroke="#4c4c4c" stroke-width="1.05"/>
<path d="M209.6,489.8 L211.1,487.6 L212.6,485.5 L214.1,483.4 L215.6,481.2 L217.1,479.1 L218.6,476.9 L220.1,474.8 L221.6,472.7 L223.1,470.5 L224.6,468.4 L226.1,466.3 L227.6,464.1 L229.1,462.0 L230.6,459.9 L232.1,457.7 L233.6,455.6 L235.1,453.5 L236.6,451.3 L238.1,449.2 L239.6,447.1 L241.1,444.9 L242.6,442.8 L244.1,440.7 L245.6,438.5 L247.1,436.4 L248.6,434.3 L250.1,432.2 L251.6,430.1 L253.1,428.0 L254.6,425.9 L256.1,423.8 L257.6,421.7 L259.1,419.7 L260.6,417.7 L262.1,415.7 L263.6,413.8 L265.1,411.8 L266.6,410.0 L268.1,408.2 L269.6,406.4 L271.1,404.8 L272.6,403.1 L274.1,401.6 L275.6,400.1 L277.1,398.6 L278.6,397.2 L280.1,395.9 L281.6,394.6 L283.1,393.3 L284.6,392.0 L286.1,390.8 L287.6,389.5 L289.1,388.3 L290.6,387.1 L292.1,385.9 L293.6,384.7 L295.1,383.5 L296.6,382.3 L298.1,381.1 L299.6,380.0 L301.1,378.8 L302.6,377.6 L304.1,376.4 L305.6,375.2 L307.1,374.1 L308.6,372.9 L310.1,371.7 L311.6,370.5 L313.1,369.4 L314.6,368.2 L316.1,367.0 L317.6,365.8 L319.1,364.7 L320.6,363.5 L322.1,362.3 L323.6,361.1 L325.1,360.0 L326.6,358.8 L328.1,357.6 L329.6,356.4 L331.1,355.3 L332.6,354.1 L334.1,352.9 L335.6,351.7 L337.1,350.6 L338.6,349.4 L340.1,348.2 L341.6,347.1 L343.1,345.9 L344.6,344.7 L346.1,343.5 L347.6,342.4 L348.6,341.6" fill="none" stroke="#4c4c4c" stroke-width="1.05"/>
<path d="M209.6,496.8 L211.1,494.7 L212.6,492.7 L214.1,490.7 L215.6,488.6 L217.1,486.6 L218.6,484.5 L220.1,482.5 L221.6,480.4 L223.1,478.4 L224.6,476.4 L226.1,474.3 L227.6,472.3 L229.1,470.2 L230.6,468.2 L232.1,466.2 L233.6,464.1 L235.1,462.1 L236.6,460.0 L238.1,458.0 L239.6,455.9 L241.1,453.9 L242.6,451.9 L244.1,449.8 L245.6,447.8 L247.1,445.7 L248.6,443.7 L250.1,441.7 L251.6,439.6 L253.1,437.6 L254.6,435.5 L256.1,433.5 L257.6,431.4 L259.1,429.4 L260.6,427.4 L262.1,425.3 L263.6,423.3 L265.1,421.3 L266.6,419.3 L268.1,417.3 L269.6,415.3 L271.1,413.3 L272.6,411.4 L274.1,409.5 L275.6,407.7 L277.1,406.0 L278.6,404.4 L280.1,402.8 L281.6,401.4 L283.1,400.0 L284.6,398.6 L286.1,397.3 L287.6,396.1 L289.1,394.8 L290.6,393.6 L292.1,392.4 L293.6,391.2 L295.1,390.0 L296.6,388.8 L298.1,387.6 L299.6,386.4 L301.1,385.2 L302.6,383.9 L304.1,382.7 L305.6,381.5 L307.1,380.3 L308.6,379.1 L310.1,377.9 L311.6,376.7 L313.1,375.6 L314.6,374.4 L316.1,373.2 L317.6,372.0 L319.1,370.8 L320.6,369.6 L322.1,368.4 L323.6,367.2 L325.1,366.0 L326.6,364.8 L328.1,363.6 L329.6,362.4 L331.1,361.2 L332.6,360.0 L334.1,358.8 L335.6,357.6 L337.1,356.4 L338.6,355.2 L340.1,354.0 L341.6,352.8 L343.1,351.6 L344.6,350.4 L346.1,349.2 L347.6,348.0 L348.6,347.2" fill="none" stroke="#4c4c4c" stroke-width="1.05"/>
<path d="M80.9,112.2 L81.8,111.0 L82.7,109.7 L83.6,108.5 L84.5,107.3 L85.4,106.1 L86.3,104.9 L87.2,103.7 L88.1,102.6 L89.0,101.4 L89.9,100.3 L90.8,99.2 L91.7,98.1 L92.6,97.0 L93.5,95.9 L94.4,94.9 L95.3,93.8 L96.2,92.8 L97.1,91.8 L98.0,90.8 L98.9,89.8 L99.8,88.8 L100.7,87.8 L101.6,86.9 L102.5,85.9 L103.4,85.0 L104.3,84.1 L105.2,83.2 L106.1,82.3 L107.0,81.4 L107.9,80.5 L108.8,79.6 L109.7,78.7 L110.6,77.8 L111.5,77.0 L112.4,76.1 L113.3,75.2 L114.2,74.4 L115.1,73.5 L116.0,72.7 L116.9,71.9 L117.8,71.1 L118.7,70.4 L119.6,69.7 L120.5,69.0 L121.4,68.4 L122.3,67.7 L123.2,67.1 L124.1,66.5 L125.0,65.9 L125.9,65.3 L126.8,64.8 L127.7,64.2 L128.6,63.7 L129.5,63.2 L130.4,62.7 L131.3,62.2 L132.2,61.7 L133.1,61.3 L134.0,60.8" fill="none" stroke="#5656f0" stroke-width="1.25" stroke-dasharray="2.8,1.9"/>
<path d="M80.9,119.9 L81.8,118.7 L82.7,117.4 L83.6,116.2 L84.5,114.9 L85.4,113.7 L86.3,112.5 L87.2,111.3 L88.1,110.1 L89.0,108.9 L89.9,107.8 L90.8,106.6 L91.7,105.5 L92.6,104.4 L93.5,103.3 L94.4,102.2 L95.3,101.1 L96.2,100.0 L97.1,99.0 L98.0,97.9 L98.9,96.9 L99.8,95.9 L100.7,94.9 L101.6,94.0 L102.5,93.0 L103.4,92.0 L104.3,91.1 L105.2,90.2 L106.1,89.2 L107.0,88.3 L107.9,87.4 L108.8,86.5 L109.7,85.6 L110.6,84.8 L111.5,83.9 L112.4,83.0 L113.3,82.2 L114.2,81.3 L115.1,80.5 L116.0,79.6 L116.9,78.9 L117.8,78.2 L118.7,77.6 L119.6,77.0 L120.5,76.5 L121.4,76.0 L122.3,75.6 L123.2,75.2 L124.1,74.8 L125.0,74.5 L125.9,74.2 L126.8,73.9 L127.7,73.7 L128.6,73.5 L129.5,73.3 L130.4,73.1 L131.3,73.0 L132.2,72.9 L133.1,72.8 L134.0,72.7" fill="none" stroke="#5656f0" stroke-width="1.25" stroke-dasharray="2.8,1.9"/>
<path d="M110.1,99.9 L110.5,99.6 L110.9,99.2 L111.3,98.8 L111.7,98.4 L112.1,98.0 L112.5,97.6 L112.9,97.3 L113.3,96.9 L113.8,96.5 L114.2,96.1 L114.6,95.8 L115.0,95.4 L115.4,95.0 L115.8,94.7 L116.2,94.3 L116.6,94.0 L117.0,93.6 L117.4,93.3 L117.8,93.0 L118.2,92.8 L118.6,92.5 L119.0,92.2 L119.4,92.0 L119.8,91.7 L120.2,91.5 L120.6,91.3 L121.0,91.1 L121.4,90.9 L121.9,90.7 L122.3,90.5 L122.7,90.3 L123.1,90.1 L123.5,89.9 L123.9,89.7 L124.3,89.6 L124.7,89.4 L125.1,89.3 L125.5,89.1 L125.9,89.0 L126.3,88.9 L126.7,88.7 L127.1,88.6 L127.5,88.5 L127.9,88.4 L128.3,88.3 L128.7,88.2 L129.1,88.1 L129.6,88.0 L130.0,87.9 L130.4,87.8 L130.8,87.7 L131.2,87.7 L131.6,87.6 L132.0,87.5 L132.4,87.5 L132.8,87.4 L133.2,87.4 L133.6,87.3 L134.0,87.3" fill="none" stroke="#5656f0" stroke-width="1.25" stroke-dasharray="2.8,1.9"/>
<path d="M80.9,153.7 L81.8,152.3 L82.7,151.0 L83.6,149.7 L84.5,148.3 L85.4,147.0 L86.3,145.7 L87.2,144.3 L88.1,143.0 L89.0,141.7 L89.9,140.4 L90.8,139.1 L91.7,137.8 L92.6,136.5 L93.5,135.2 L94.4,133.9 L95.3,132.6 L96.2,131.3 L97.1,130.1 L98.0,128.9 L98.9,127.6 L99.8,126.4 L100.7,125.3 L101.6,124.1 L102.5,123.0 L103.4,121.8 L104.3,120.8 L105.2,119.7 L106.1,118.7 L107.0,117.6 L107.9,116.6 L108.8,115.7 L109.7,114.7 L110.6,113.8 L111.5,112.9 L112.4,112.0 L113.3,111.1 L114.2,110.2 L115.1,109.4 L116.0,108.5 L116.9,107.7 L117.8,107.0 L118.7,106.3 L119.6,105.6 L120.5,104.9 L121.4,104.3 L122.3,103.7 L123.2,103.1 L124.1,102.5 L125.0,101.9 L125.9,101.4 L126.8,100.9 L127.7,100.3 L128.6,99.8 L129.5,99.4 L130.4,98.9 L131.3,98.4 L132.2,98.0 L133.1,97.5 L134.0,97.1" fill="none" stroke="#5656f0" stroke-width="1.25" stroke-dasharray="2.8,1.9"/>
<path d="M80.9,164.3 L81.8,162.9 L82.7,161.5 L83.6,160.1 L84.5,158.7 L85.4,157.3 L86.3,155.9 L87.2,154.5 L88.1,153.1 L89.0,151.7 L89.9,150.4 L90.8,149.0 L91.7,147.7 L92.6,146.3 L93.5,145.0 L94.4,143.7 L95.3,142.4 L96.2,141.1 L97.1,139.8 L98.0,138.6 L98.9,137.3 L99.8,136.1 L100.7,134.9 L101.6,133.7 L102.5,132.5 L103.4,131.3 L104.3,130.2 L105.2,129.0 L106.1,127.9 L107.0,126.8 L107.9,125.7 L108.8,124.6 L109.7,123.6 L110.6,122.5 L111.5,121.5 L112.4,120.4 L113.3,119.4 L114.2,118.4 L115.1,117.5 L116.0,116.5 L116.9,115.6 L117.8,114.7 L118.7,113.8 L119.6,113.0 L120.5,112.2 L121.4,111.5 L122.3,110.7 L123.2,110.0 L124.1,109.3 L125.0,108.6 L125.9,108.0 L126.8,107.4 L127.7,106.7 L128.6,106.1 L129.5,105.6 L130.4,105.0 L131.3,104.5 L132.2,103.9 L133.1,103.4 L134.0,102.9" fill="none" stroke="#5656f0" stroke-width="1.25" stroke-dasharray="2.8,1.9"/>
<path d="M266.2,100.8 L266.9,100.0 L267.6,99.2 L268.3,98.5 L269.0,97.7 L269.7,97.0 L270.4,96.3 L271.1,95.5 L271.8,94.8 L272.5,94.1 L273.2,93.4 L273.9,92.7 L274.6,92.0 L275.3,91.4 L276.0,90.7 L276.7,90.0 L277.4,89.4 L278.1,88.7 L278.8,88.0 L279.5,87.4 L280.2,86.7 L280.9,86.1 L281.6,85.5 L282.3,84.8 L283.0,84.2 L283.7,83.5 L284.4,82.9 L285.1,82.3 L285.8,81.7 L286.5,81.0 L287.2,80.4 L287.9,79.8 L288.6,79.2 L289.3,78.5 L290.0,77.9 L290.7,77.4 L291.4,76.8 L292.1,76.3 L292.8,75.8 L293.5,75.4 L294.2,74.9 L294.9,74.5 L295.6,74.0 L296.3,73.6 L297.0,73.2 L297.7,72.8 L298.4,72.5 L299.1,72.1 L299.8,71.8 L300.5,71.4 L301.2,71.1 L301.9,70.8 L302.6,70.5 L303.3,70.2 L304.0,69.9 L304.7,69.6 L305.4,69.3 L306.1,69.1 L306.8,68.8 L307.5,68.6" fill="none" stroke="#5656f0" stroke-width="1.25" stroke-dasharray="2.8,1.9"/>
<path d="M266.2,107.6 L266.9,106.8 L267.6,106.1 L268.3,105.3 L269.0,104.5 L269.7,103.8 L270.4,103.0 L271.1,102.2 L271.8,101.5 L272.5,100.8 L273.2,100.0 L273.9,99.3 L274.6,98.6 L275.3,97.9 L276.0,97.2 L276.7,96.5 L277.4,95.8 L278.1,95.1 L278.8,94.4 L279.5,93.7 L280.2,93.1 L280.9,92.4 L281.6,91.7 L282.3,91.1 L283.0,90.4 L283.7,89.7 L284.4,89.1 L285.1,88.4 L285.8,87.8 L286.5,87.1 L287.2,86.5 L287.9,85.8 L288.6,85.2 L289.3,84.6 L290.0,84.0 L290.7,83.4 L291.4,82.9 L292.1,82.5 L292.8,82.1 L293.5,81.7 L294.2,81.3 L294.9,80.9 L295.6,80.6 L296.3,80.3 L297.0,80.1 L297.7,79.8 L298.4,79.6 L299.1,79.3 L299.8,79.1 L300.5,79.0 L301.2,78.8 L301.9,78.7 L302.6,78.5 L303.3,78.4 L304.0,78.3 L304.7,78.3 L305.4,78.2 L306.1,78.2 L306.8,78.1 L307.5,78.1" fill="none" stroke="#5656f0" stroke-width="1.25" stroke-dasharray="2.8,1.9"/>
<path d="M283.7,102.7 L284.1,102.4 L284.5,102.0 L284.9,101.6 L285.3,101.3 L285.7,100.9 L286.1,100.6 L286.5,100.2 L286.9,99.9 L287.3,99.5 L287.7,99.2 L288.1,98.8 L288.5,98.5 L288.9,98.1 L289.3,97.8 L289.7,97.4 L290.1,97.1 L290.6,96.8 L291.0,96.5 L291.4,96.2 L291.8,96.0 L292.2,95.7 L292.6,95.4 L293.0,95.2 L293.4,94.9 L293.8,94.7 L294.2,94.4 L294.6,94.2 L295.0,94.0 L295.4,93.7 L295.8,93.5 L296.2,93.3 L296.6,93.1 L297.0,92.9 L297.4,92.7 L297.8,92.5 L298.2,92.3 L298.6,92.1 L299.0,91.9 L299.4,91.7 L299.8,91.5 L300.2,91.4 L300.6,91.2 L301.0,91.0 L301.4,90.9 L301.8,90.7 L302.2,90.5 L302.7,90.4 L303.1,90.2 L303.5,90.1 L303.9,89.9 L304.3,89.8 L304.7,89.7 L305.1,89.5 L305.5,89.4 L305.9,89.3 L306.3,89.1 L306.7,89.0 L307.1,88.9 L307.5,88.8" fill="none" stroke="#5656f0" stroke-width="1.25" stroke-dasharray="2.8,1.9"/>
<path d="M266.2,142.8 L266.9,141.8 L267.6,140.7 L268.3,139.6 L269.0,138.5 L269.7,137.4 L270.4,136.3 L271.1,135.2 L271.8,134.1 L272.5,133.0 L273.2,131.9 L273.9,130.8 L274.6,129.8 L275.3,128.7 L276.0,127.7 L276.7,126.6 L277.4,125.6 L278.1,124.6 L278.8,123.6 L279.5,122.7 L280.2,121.7 L280.9,120.8 L281.6,120.0 L282.3,119.1 L283.0,118.3 L283.7,117.5 L284.4,116.8 L285.1,116.0 L285.8,115.3 L286.5,114.7 L287.2,114.0 L287.9,113.4 L288.6,112.7 L289.3,112.1 L290.0,111.5 L290.7,111.0 L291.4,110.4 L292.1,109.9 L292.8,109.4 L293.5,108.9 L294.2,108.5 L294.9,108.0 L295.6,107.5 L296.3,107.1 L297.0,106.7 L297.7,106.2 L298.4,105.8 L299.1,105.4 L299.8,104.9 L300.5,104.5 L301.2,104.1 L301.9,103.7 L302.6,103.3 L303.3,102.9 L304.0,102.5 L304.7,102.1 L305.4,101.7 L306.1,101.3 L306.8,101.0 L307.5,100.6" fill="none" stroke="#5656f0" stroke-width="1.25" stroke-dasharray="2.8,1.9"/>
<path d="M266.2,151.6 L266.9,150.5 L267.6,149.3 L268.3,148.2 L269.0,147.1 L269.7,146.0 L270.4,144.9 L271.1,143.8 L271.8,142.7 L272.5,141.6 L273.2,140.5 L273.9,139.4 L274.6,138.4 L275.3,137.3 L276.0,136.3 L276.7,135.2 L277.4,134.2 L278.1,133.2 L278.8,132.3 L279.5,131.3 L280.2,130.4 L280.9,129.5 L281.6,128.6 L282.3,127.8 L283.0,127.0 L283.7,126.2 L284.4,125.4 L285.1,124.6 L285.8,123.9 L286.5,123.2 L287.2,122.5 L287.9,121.8 L288.6,121.1 L289.3,120.5 L290.0,119.8 L290.7,119.2 L291.4,118.6 L292.1,118.1 L292.8,117.5 L293.5,117.0 L294.2,116.5 L294.9,116.0 L295.6,115.5 L296.3,115.1 L297.0,114.6 L297.7,114.2 L298.4,113.7 L299.1,113.3 L299.8,112.9 L300.5,112.4 L301.2,112.0 L301.9,111.6 L302.6,111.2 L303.3,110.8 L304.0,110.5 L304.7,110.1 L305.4,109.7 L306.1,109.4 L306.8,109.0 L307.5,108.7" fill="none" stroke="#5656f0" stroke-width="1.25" stroke-dasharray="2.8,1.9"/>
<path d="M104.6,354.1 L105.1,353.7 L105.5,353.3 L106.0,352.9 L106.4,352.6 L106.9,352.2 L107.3,351.9 L107.8,351.6 L108.2,351.3 L108.7,351.0 L109.1,350.7 L109.6,350.4 L110.0,350.1 L110.5,349.8 L110.9,349.6 L111.4,349.3 L111.8,349.1 L112.3,348.8 L112.7,348.6 L113.2,348.4 L113.6,348.2 L114.1,347.9 L114.5,347.7 L115.0,347.5 L115.4,347.3 L115.9,347.1 L116.3,346.9 L116.8,346.8 L117.2,346.6 L117.7,346.4 L118.1,346.3 L118.6,346.1 L119.0,345.9 L119.5,345.8 L119.9,345.6 L120.4,345.5 L120.8,345.4 L121.3,345.2 L121.7,345.1 L122.2,345.0 L122.6,344.9 L123.1,344.7 L123.5,344.6 L124.0,344.5 L124.4,344.4 L124.9,344.3 L125.4,344.2 L125.8,344.1 L126.3,344.1 L126.7,344.0 L127.2,343.9 L127.6,343.8 L128.1,343.7 L128.5,343.7 L129.0,343.6 L129.4,343.5 L129.9,343.5 L130.3,343.4 L130.8,343.4 L131.2,343.3" fill="none" stroke="#5656f0" stroke-width="1.25" stroke-dasharray="2.8,1.9"/>
<path d="M104.6,361.8 L105.1,361.4 L105.5,361.0 L106.0,360.6 L106.4,360.2 L106.9,359.9 L107.3,359.5 L107.8,359.2 L108.2,358.9 L108.7,358.5 L109.1,358.2 L109.6,357.9 L110.0,357.6 L110.5,357.3 L110.9,357.1 L111.4,356.8 L111.8,356.5 L112.3,356.3 L112.7,356.0 L113.2,355.7 L113.6,355.5 L114.1,355.3 L114.5,355.0 L115.0,354.8 L115.4,354.6 L115.9,354.4 L116.3,354.2 L116.8,353.9 L117.2,353.7 L117.7,353.5 L118.1,353.4 L118.6,353.2 L119.0,353.0 L119.5,352.8 L119.9,352.6 L120.4,352.5 L120.8,352.3 L121.3,352.1 L121.7,352.0 L122.2,351.8 L122.6,351.7 L123.1,351.5 L123.5,351.4 L124.0,351.2 L124.4,351.1 L124.9,351.0 L125.4,350.8 L125.8,350.7 L126.3,350.6 L126.7,350.5 L127.2,350.4 L127.6,350.2 L128.1,350.1 L128.5,350.0 L129.0,349.9 L129.4,349.8 L129.9,349.7 L130.3,349.7 L130.8,349.6 L131.2,349.5" fill="none" stroke="#5656f0" stroke-width="1.25" stroke-dasharray="2.8,1.9"/>
<path d="M104.6,378.3 L105.1,377.9 L105.5,377.5 L106.0,377.1 L106.4,376.7 L106.9,376.3 L107.3,375.9 L107.8,375.5 L108.2,375.2 L108.7,374.8 L109.1,374.5 L109.6,374.1 L110.0,373.8 L110.5,373.5 L110.9,373.1 L111.4,372.8 L111.8,372.5 L112.3,372.2 L112.7,371.9 L113.2,371.6 L113.6,371.3 L114.1,371.0 L114.5,370.8 L115.0,370.5 L115.4,370.2 L115.9,369.9 L116.3,369.7 L116.8,369.4 L117.2,369.2 L117.7,368.9 L118.1,368.7 L118.6,368.4 L119.0,368.2 L119.5,368.0 L119.9,367.7 L120.4,367.5 L120.8,367.3 L121.3,367.1 L121.7,366.8 L122.2,366.6 L122.6,366.4 L123.1,366.2 L123.5,366.0 L124.0,365.8 L124.4,365.6 L124.9,365.4 L125.4,365.2 L125.8,365.0 L126.3,364.9 L126.7,364.7 L127.2,364.5 L127.6,364.3 L128.1,364.2 L128.5,364.0 L129.0,363.8 L129.4,363.7 L129.9,363.5 L130.3,363.3 L130.8,363.2 L131.2,363.0" fill="none" stroke="#5656f0" stroke-width="1.25" stroke-dasharray="2.8,1.9"/>
<path d="M104.6,394.2 L105.1,393.8 L105.5,393.4 L106.0,392.9 L106.4,392.5 L106.9,392.1 L107.3,391.8 L107.8,391.4 L108.2,391.0 L108.7,390.6 L109.1,390.3 L109.6,389.9 L110.0,389.5 L110.5,389.2 L110.9,388.8 L111.4,388.5 L111.8,388.1 L112.3,387.8 L112.7,387.5 L113.2,387.1 L113.6,386.8 L114.1,386.5 L114.5,386.2 L115.0,385.8 L115.4,385.5 L115.9,385.2 L116.3,384.9 L116.8,384.6 L117.2,384.3 L117.7,384.0 L118.1,383.7 L118.6,383.4 L119.0,383.1 L119.5,382.8 L119.9,382.5 L120.4,382.2 L120.8,381.9 L121.3,381.6 L121.7,381.3 L122.2,381.1 L122.6,380.8 L123.1,380.5 L123.5,380.2 L124.0,380.0 L124.4,379.7 L124.9,379.4 L125.4,379.1 L125.8,378.9 L126.3,378.6 L126.7,378.3 L127.2,378.1 L127.6,377.8 L128.1,377.6 L128.5,377.3 L129.0,377.0 L129.4,376.8 L129.9,376.5 L130.3,376.3 L130.8,376.0 L131.2,375.8" fill="none" stroke="#5656f0" stroke-width="1.25" stroke-dasharray="2.8,1.9"/>
<path d="M104.6,401.8 L105.1,401.4 L105.5,400.9 L106.0,400.5 L106.4,400.1 L106.9,399.7 L107.3,399.2 L107.8,398.8 L108.2,398.4 L108.7,398.1 L109.1,397.7 L109.6,397.3 L110.0,396.9 L110.5,396.5 L110.9,396.2 L111.4,395.8 L111.8,395.5 L112.3,395.1 L112.7,394.8 L113.2,394.4 L113.6,394.1 L114.1,393.8 L114.5,393.4 L115.0,393.1 L115.4,392.8 L115.9,392.5 L116.3,392.1 L116.8,391.8 L117.2,391.5 L117.7,391.2 L118.1,390.9 L118.6,390.6 L119.0,390.3 L119.5,390.0 L119.9,389.7 L120.4,389.4 L120.8,389.1 L121.3,388.8 L121.7,388.5 L122.2,388.2 L122.6,387.9 L123.1,387.7 L123.5,387.4 L124.0,387.1 L124.4,386.8 L124.9,386.6 L125.4,386.3 L125.8,386.0 L126.3,385.7 L126.7,385.5 L127.2,385.2 L127.6,385.0 L128.1,384.7 L128.5,384.4 L129.0,384.2 L129.4,383.9 L129.9,383.7 L130.3,383.4 L130.8,383.2 L131.2,382.9" fill="none" stroke="#5656f0" stroke-width="1.25" stroke-dasharray="2.8,1.9"/>
<path d="M279.1,357.6 L279.6,357.3 L280.0,356.9 L280.5,356.6 L280.9,356.3 L281.4,356.0 L281.8,355.7 L282.3,355.4 L282.7,355.1 L283.2,354.8 L283.6,354.5 L284.1,354.3 L284.5,354.0 L285.0,353.7 L285.4,353.5 L285.9,353.2 L286.3,353.0 L286.8,352.8 L287.3,352.5 L287.7,352.3 L288.2,352.1 L288.6,351.8 L289.1,351.6 L289.5,351.4 L290.0,351.2 L290.4,351.0 L290.9,350.8 L291.3,350.5 L291.8,350.3 L292.2,350.1 L292.7,350.0 L293.1,349.8 L293.6,349.6 L294.1,349.4 L294.5,349.2 L295.0,349.0 L295.4,348.8 L295.9,348.7 L296.3,348.5 L296.8,348.3 L297.2,348.2 L297.7,348.0 L298.1,347.8 L298.6,347.7 L299.0,347.5 L299.5,347.4 L299.9,347.2 L300.4,347.1 L300.8,346.9 L301.3,346.8 L301.8,346.6 L302.2,346.5 L302.7,346.3 L303.1,346.2 L303.6,346.1 L304.0,345.9 L304.5,345.8 L304.9,345.7 L305.4,345.6 L305.8,345.4" fill="none" stroke="#5656f0" stroke-width="1.25" stroke-dasharray="2.8,1.9"/>
<path d="M209.6,462.1 L210.8,460.0 L212.0,457.8 L213.1,455.7 L214.3,453.6 L215.5,451.4 L216.7,449.3 L217.8,447.2 L219.0,445.1 L220.2,442.9 L221.4,440.8 L222.6,438.7 L223.7,436.5 L224.9,434.4 L226.1,432.3 L227.3,430.2 L228.4,428.0 L229.6,425.9 L230.8,423.8 L232.0,421.7 L233.2,419.6 L234.3,417.5 L235.5,415.3 L236.7,413.2 L237.9,411.1 L239.0,409.1 L240.2,407.0 L241.4,404.9 L242.6,402.8 L243.8,400.8 L244.9,398.7 L246.1,396.7 L247.3,394.7 L248.5,392.8 L249.7,390.8 L250.8,388.9 L252.0,387.0 L253.2,385.2 L254.4,383.4 L255.5,381.6 L256.7,379.9 L257.9,378.3 L259.1,376.7 L260.3,375.2 L261.4,373.7 L262.6,372.3 L263.8,371.0 L265.0,369.7 L266.1,368.5 L267.3,367.3 L268.5,366.2 L269.7,365.1 L270.9,364.0 L272.0,363.0 L273.2,362.0 L274.4,361.0 L275.6,360.1 L276.7,359.1 L277.9,358.2 L279.1,357.3" fill="none" stroke="#5656f0" stroke-width="0.9" stroke-dasharray="2.6,1.8" opacity="0.5"/>
<path d="M279.1,364.9 L279.6,364.5 L280.0,364.2 L280.5,363.8 L280.9,363.5 L281.4,363.2 L281.8,362.9 L282.3,362.6 L282.7,362.3 L283.2,362.0 L283.6,361.7 L284.1,361.4 L284.5,361.1 L285.0,360.9 L285.4,360.6 L285.9,360.4 L286.3,360.1 L286.8,359.9 L287.3,359.7 L287.7,359.4 L288.2,359.2 L288.6,359.0 L289.1,358.8 L289.5,358.6 L290.0,358.3 L290.4,358.1 L290.9,357.9 L291.3,357.7 L291.8,357.6 L292.2,357.4 L292.7,357.2 L293.1,357.0 L293.6,356.8 L294.1,356.7 L294.5,356.5 L295.0,356.3 L295.4,356.2 L295.9,356.0 L296.3,355.8 L296.8,355.7 L297.2,355.5 L297.7,355.4 L298.1,355.2 L298.6,355.1 L299.0,355.0 L299.5,354.8 L299.9,354.7 L300.4,354.6 L300.8,354.4 L301.3,354.3 L301.8,354.2 L302.2,354.1 L302.7,353.9 L303.1,353.8 L303.6,353.7 L304.0,353.6 L304.5,353.5 L304.9,353.4 L305.4,353.3 L305.8,353.2" fill="none" stroke="#5656f0" stroke-width="1.25" stroke-dasharray="2.8,1.9"/>
<path d="M209.6,466.4 L210.8,464.4 L212.0,462.3 L213.1,460.3 L214.3,458.2 L215.5,456.2 L216.7,454.1 L217.8,452.1 L219.0,450.0 L220.2,448.0 L221.4,445.9 L222.6,443.9 L223.7,441.9 L224.9,439.8 L226.1,437.8 L227.3,435.8 L228.4,433.7 L229.6,431.7 L230.8,429.7 L232.0,427.6 L233.2,425.6 L234.3,423.6 L235.5,421.6 L236.7,419.6 L237.9,417.6 L239.0,415.6 L240.2,413.6 L241.4,411.6 L242.6,409.7 L243.8,407.7 L244.9,405.8 L246.1,403.9 L247.3,402.0 L248.5,400.1 L249.7,398.3 L250.8,396.4 L252.0,394.7 L253.2,392.9 L254.4,391.2 L255.5,389.5 L256.7,387.9 L257.9,386.3 L259.1,384.7 L260.3,383.2 L261.4,381.8 L262.6,380.3 L263.8,379.0 L265.0,377.7 L266.1,376.4 L267.3,375.1 L268.5,374.0 L269.7,372.8 L270.9,371.7 L272.0,370.6 L273.2,369.5 L274.4,368.5 L275.6,367.5 L276.7,366.5 L277.9,365.5 L279.1,364.6" fill="none" stroke="#5656f0" stroke-width="0.9" stroke-dasharray="2.6,1.8" opacity="0.5"/>
<path d="M279.1,381.6 L279.6,381.2 L280.0,380.8 L280.5,380.4 L280.9,380.1 L281.4,379.7 L281.8,379.4 L282.3,379.0 L282.7,378.7 L283.2,378.3 L283.6,378.0 L284.1,377.7 L284.5,377.4 L285.0,377.1 L285.4,376.8 L285.9,376.5 L286.3,376.2 L286.8,375.9 L287.3,375.6 L287.7,375.4 L288.2,375.1 L288.6,374.8 L289.1,374.6 L289.5,374.3 L290.0,374.1 L290.4,373.8 L290.9,373.6 L291.3,373.3 L291.8,373.1 L292.2,372.9 L292.7,372.6 L293.1,372.4 L293.6,372.2 L294.1,371.9 L294.5,371.7 L295.0,371.5 L295.4,371.3 L295.9,371.1 L296.3,370.9 L296.8,370.7 L297.2,370.5 L297.7,370.3 L298.1,370.1 L298.6,369.9 L299.0,369.7 L299.5,369.5 L299.9,369.3 L300.4,369.2 L300.8,369.0 L301.3,368.8 L301.8,368.6 L302.2,368.5 L302.7,368.3 L303.1,368.1 L303.6,368.0 L304.0,367.8 L304.5,367.6 L304.9,367.5 L305.4,367.3 L305.8,367.2" fill="none" stroke="#5656f0" stroke-width="1.25" stroke-dasharray="2.8,1.9"/>
<path d="M279.1,397.4 L279.6,397.0 L280.0,396.6 L280.5,396.2 L280.9,395.8 L281.4,395.4 L281.8,395.0 L282.3,394.7 L282.7,394.3 L283.2,394.0 L283.6,393.6 L284.1,393.3 L284.5,392.9 L285.0,392.6 L285.4,392.3 L285.9,392.0 L286.3,391.7 L286.8,391.3 L287.3,391.0 L287.7,390.7 L288.2,390.4 L288.6,390.1 L289.1,389.8 L289.5,389.6 L290.0,389.3 L290.4,389.0 L290.9,388.7 L291.3,388.4 L291.8,388.2 L292.2,387.9 L292.7,387.6 L293.1,387.3 L293.6,387.1 L294.1,386.8 L294.5,386.5 L295.0,386.3 L295.4,386.0 L295.9,385.8 L296.3,385.5 L296.8,385.3 L297.2,385.0 L297.7,384.8 L298.1,384.5 L298.6,384.3 L299.0,384.1 L299.5,383.8 L299.9,383.6 L300.4,383.3 L300.8,383.1 L301.3,382.9 L301.8,382.7 L302.2,382.4 L302.7,382.2 L303.1,382.0 L303.6,381.8 L304.0,381.5 L304.5,381.3 L304.9,381.1 L305.4,380.9 L305.8,380.7" fill="none" stroke="#5656f0" stroke-width="1.25" stroke-dasharray="2.8,1.9"/>
<path d="M209.6,490.1 L210.8,488.4 L212.0,486.7 L213.1,485.0 L214.3,483.4 L215.5,481.7 L216.7,480.0 L217.8,478.3 L219.0,476.6 L220.2,475.0 L221.4,473.3 L222.6,471.6 L223.7,469.9 L224.9,468.3 L226.1,466.6 L227.3,464.9 L228.4,463.2 L229.6,461.6 L230.8,459.9 L232.0,458.2 L233.2,456.5 L234.3,454.8 L235.5,453.2 L236.7,451.5 L237.9,449.8 L239.0,448.1 L240.2,446.5 L241.4,444.8 L242.6,443.1 L243.8,441.5 L244.9,439.8 L246.1,438.1 L247.3,436.4 L248.5,434.8 L249.7,433.1 L250.8,431.5 L252.0,429.8 L253.2,428.2 L254.4,426.5 L255.5,424.9 L256.7,423.3 L257.9,421.6 L259.1,420.0 L260.3,418.5 L261.4,416.9 L262.6,415.3 L263.8,413.8 L265.0,412.3 L266.1,410.8 L267.3,409.4 L268.5,408.0 L269.7,406.6 L270.9,405.3 L272.0,404.0 L273.2,402.8 L274.4,401.6 L275.6,400.4 L276.7,399.3 L277.9,398.2 L279.1,397.1" fill="none" stroke="#5656f0" stroke-width="0.9" stroke-dasharray="2.6,1.8" opacity="0.5"/>
<path d="M279.1,404.5 L279.6,404.0 L280.0,403.5 L280.5,403.1 L280.9,402.6 L281.4,402.2 L281.8,401.8 L282.3,401.4 L282.7,401.0 L283.2,400.7 L283.6,400.3 L284.1,399.9 L284.5,399.6 L285.0,399.2 L285.4,398.9 L285.9,398.6 L286.3,398.2 L286.8,397.9 L287.3,397.6 L287.7,397.3 L288.2,397.0 L288.6,396.7 L289.1,396.4 L289.5,396.1 L290.0,395.8 L290.4,395.5 L290.9,395.2 L291.3,394.9 L291.8,394.6 L292.2,394.4 L292.7,394.1 L293.1,393.8 L293.6,393.5 L294.1,393.3 L294.5,393.0 L295.0,392.7 L295.4,392.5 L295.9,392.2 L296.3,392.0 L296.8,391.7 L297.2,391.5 L297.7,391.2 L298.1,391.0 L298.6,390.7 L299.0,390.5 L299.5,390.2 L299.9,390.0 L300.4,389.7 L300.8,389.5 L301.3,389.3 L301.8,389.0 L302.2,388.8 L302.7,388.6 L303.1,388.3 L303.6,388.1 L304.0,387.9 L304.5,387.6 L304.9,387.4 L305.4,387.2 L305.8,387.0" fill="none" stroke="#5656f0" stroke-width="1.25" stroke-dasharray="2.8,1.9"/>
<path d="M209.6,497.1 L210.8,495.5 L212.0,493.9 L213.1,492.3 L214.3,490.7 L215.5,489.1 L216.7,487.5 L217.8,485.9 L219.0,484.3 L220.2,482.7 L221.4,481.0 L222.6,479.4 L223.7,477.8 L224.9,476.2 L226.1,474.6 L227.3,473.0 L228.4,471.4 L229.6,469.8 L230.8,468.2 L232.0,466.6 L233.2,465.0 L234.3,463.4 L235.5,461.8 L236.7,460.2 L237.9,458.6 L239.0,457.0 L240.2,455.4 L241.4,453.8 L242.6,452.2 L243.8,450.6 L244.9,449.0 L246.1,447.4 L247.3,445.8 L248.5,444.2 L249.7,442.6 L250.8,441.0 L252.0,439.4 L253.2,437.8 L254.4,436.1 L255.5,434.5 L256.7,432.9 L257.9,431.3 L259.1,429.7 L260.3,428.1 L261.4,426.5 L262.6,424.9 L263.8,423.4 L265.0,421.8 L266.1,420.2 L267.3,418.6 L268.5,417.0 L269.7,415.5 L270.9,413.9 L272.0,412.4 L273.2,410.9 L274.4,409.5 L275.6,408.1 L276.7,406.7 L277.9,405.4 L279.1,404.2" fill="none" stroke="#5656f0" stroke-width="0.9" stroke-dasharray="2.6,1.8" opacity="0.5"/>
<line x1="41.9" y1="22.0" x2="59.5" y2="22.0" stroke="#777" stroke-width="1.5"/>
<line x1="41.9" y1="32.3" x2="59.5" y2="32.3" stroke="#4646ff" stroke-width="1.0" stroke-dasharray="3,2"/>
<line x1="41.9" y1="42.5" x2="59.5" y2="42.5" stroke="#ff5050" stroke-width="1.0" stroke-dasharray="3,2"/>
<text x="61.7" y="25.2" font-size="9.5" textLength="105.0" lengthAdjust="spacingAndGlyphs">Fitted postnatal monitoring curves</text>
<text x="61.7" y="35.5" font-size="9.5" textLength="74.6" lengthAdjust="spacingAndGlyphs">Newborn growth curves</text>
<text x="61.7" y="45.7" font-size="9.5" textLength="62.6" lengthAdjust="spacingAndGlyphs">Child growth curves</text>
<line x1="38.9" y1="293.0" x2="56.3" y2="293.0" stroke="#777" stroke-width="1.5"/>
<line x1="38.9" y1="303.4" x2="56.3" y2="303.4" stroke="#4646ff" stroke-width="1.0" stroke-dasharray="3,2"/>
<line x1="38.9" y1="313.8" x2="56.3" y2="313.8" stroke="#ff5050" stroke-width="1.0" stroke-dasharray="3,2"/>
<text x="58.8" y="296.2" font-size="9.5" textLength="105.0" lengthAdjust="spacingAndGlyphs">Fitted postnatal monitoring curves</text>
<text x="58.8" y="306.6" font-size="9.5" textLength="74.6" lengthAdjust="spacingAndGlyphs">Newborn growth curves</text>
<text x="58.8" y="317.0" font-size="9.5" textLength="62.6" lengthAdjust="spacingAndGlyphs">Child growth curves</text>
<text x="83.8" y="250.6" font-size="9.4" textLength="47.4" lengthAdjust="spacingAndGlyphs">Age (weeks)</text>
<text x="257.1" y="250.5" font-size="9.4" textLength="47.4" lengthAdjust="spacingAndGlyphs">Age (weeks)</text>
<text x="83.1" y="528.2" font-size="9.4" textLength="43.5" lengthAdjust="spacingAndGlyphs">Age (week)</text>
<text x="255.5" y="527.8" font-size="9.4" textLength="47.4" lengthAdjust="spacingAndGlyphs">Age (weeks)</text>
<text transform="translate(23.6,150.9) rotate(-90)" font-size="8.8" textLength="45.2" lengthAdjust="spacingAndGlyphs">Length (cm)</text>
<text transform="translate(21.4,449.6) rotate(-90)" font-size="8.6" textLength="95.4" lengthAdjust="spacingAndGlyphs">Head circumference (cm)</text>
<text x="148.9" y="215.8" font-size="9.5" textLength="22.5" lengthAdjust="spacingAndGlyphs">BOYS</text>
<text x="146.1" y="491.4" font-size="9.5" textLength="22.7" lengthAdjust="spacingAndGlyphs">BOYS</text>
<text x="320.1" y="217.7" font-size="9.7" textLength="24.8" lengthAdjust="spacingAndGlyphs">GIRLS</text>
<text x="317.9" y="494.0" font-size="9.7" textLength="25.1" lengthAdjust="spacingAndGlyphs">GIRLS</text>
<text x="181.9" y="268.4" font-size="10.5" textLength="11.3" lengthAdjust="spacingAndGlyphs">(<tspan font-weight="bold">B</tspan>)</text>
<text x="181.6" y="545.2" font-size="10.5" textLength="11.8" lengthAdjust="spacingAndGlyphs">(<tspan font-weight="bold">C</tspan>)</text>
</svg></body></html>
